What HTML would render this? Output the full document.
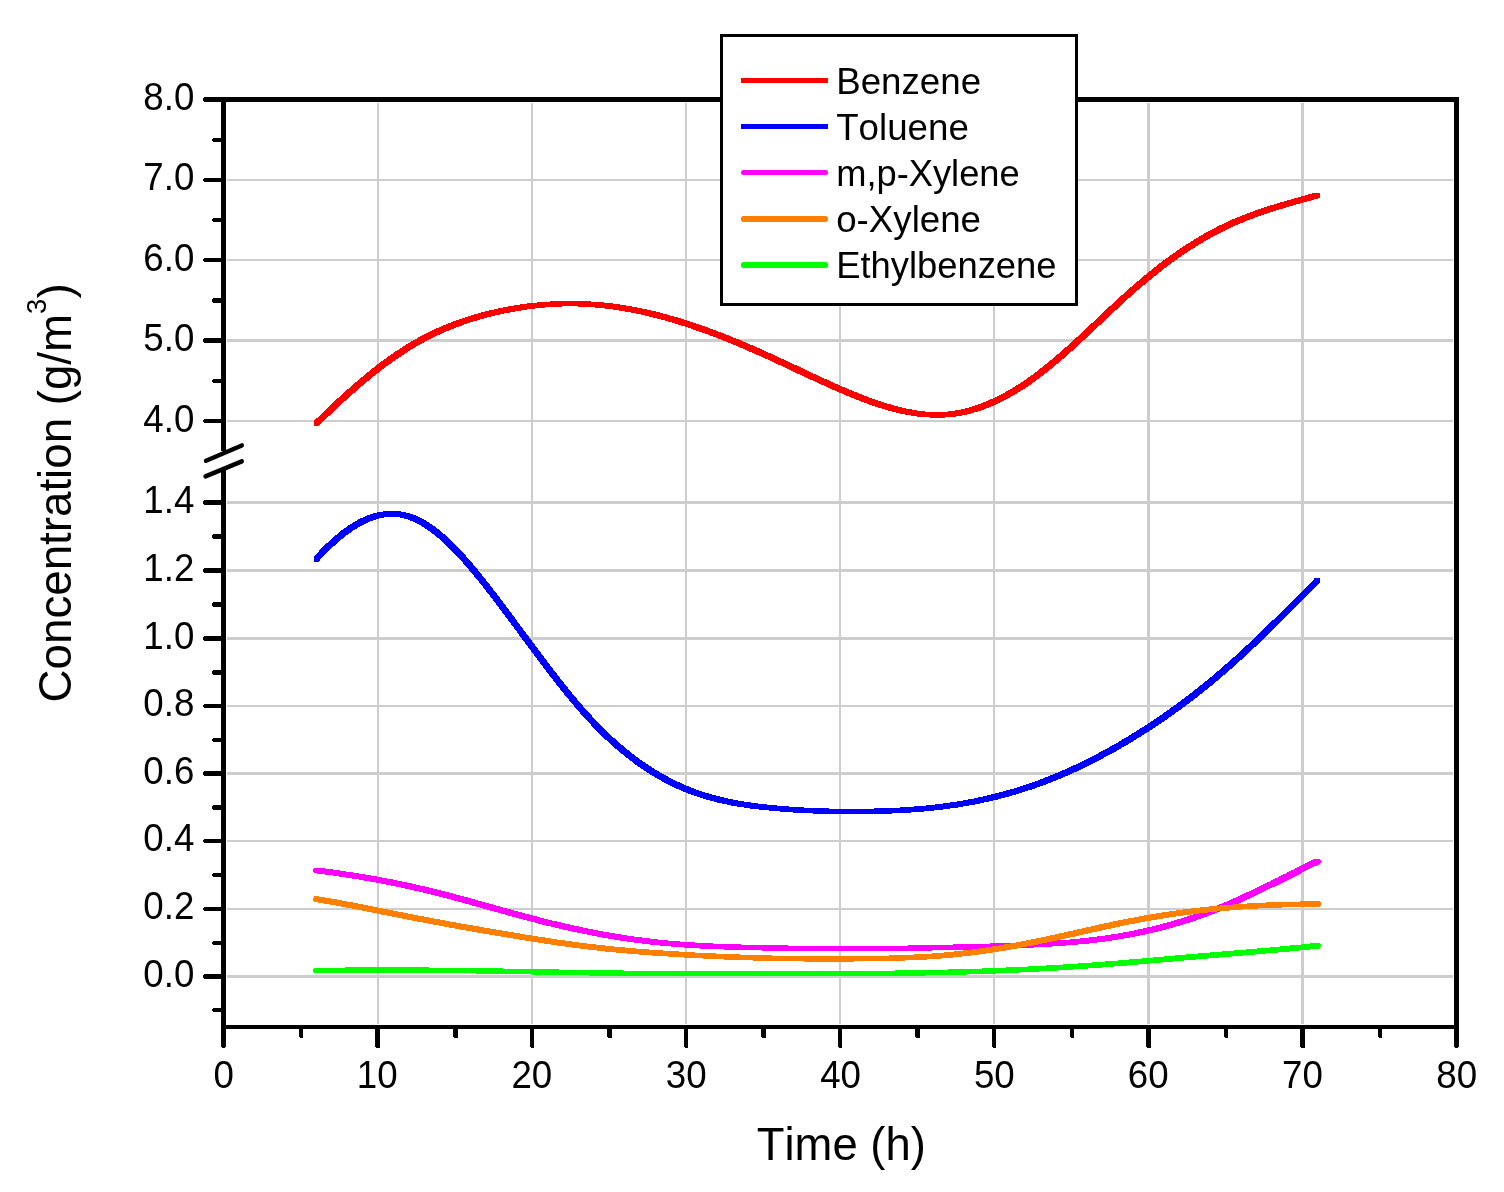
<!DOCTYPE html>
<html lang="en"><head><meta charset="utf-8"><title>BTEX concentration vs. time</title>
<style>html,body{margin:0;padding:0;background:#fff;}body{width:1504px;height:1192px;overflow:hidden;}svg{display:block;}text{font-family:"Liberation Sans", sans-serif;fill:#000;font-kerning:none;}</style>
</head><body>
<svg xmlns="http://www.w3.org/2000/svg" width="1504" height="1192" viewBox="0 0 1504 1192">
<rect x="0" y="0" width="1504" height="1192" fill="#ffffff"/>
<g shape-rendering="crispEdges">
<rect x="377" y="103" width="2" height="921" fill="#cdcdcd"/>
<rect x="531" y="103" width="2" height="921" fill="#cdcdcd"/>
<rect x="685" y="103" width="2" height="921" fill="#cdcdcd"/>
<rect x="839" y="103" width="2" height="921" fill="#cdcdcd"/>
<rect x="993" y="103" width="2" height="921" fill="#cdcdcd"/>
<rect x="1147" y="103" width="3" height="921" fill="#cdcdcd"/>
<rect x="1301" y="103" width="3" height="921" fill="#cdcdcd"/>
<rect x="227" y="179" width="1226" height="2" fill="#cdcdcd"/>
<rect x="227" y="259" width="1226" height="2" fill="#cdcdcd"/>
<rect x="227" y="339" width="1226" height="3" fill="#cdcdcd"/>
<rect x="227" y="420" width="1226" height="2" fill="#cdcdcd"/>
<rect x="227" y="501" width="1226" height="3" fill="#cdcdcd"/>
<rect x="227" y="569" width="1226" height="3" fill="#cdcdcd"/>
<rect x="227" y="637" width="1226" height="3" fill="#cdcdcd"/>
<rect x="227" y="705" width="1226" height="2" fill="#cdcdcd"/>
<rect x="227" y="772" width="1226" height="3" fill="#cdcdcd"/>
<rect x="227" y="840" width="1226" height="2" fill="#cdcdcd"/>
<rect x="227" y="908" width="1226" height="2" fill="#cdcdcd"/>
<rect x="227" y="975" width="1226" height="3" fill="#cdcdcd"/>
</g>
<path d="M314.3,420.6 314.5,420.4 314.7,420.2 314.9,420.0 315.1,419.8 315.3,419.6 315.5,419.4 315.7,419.2 315.9,419.0 316.1,418.8 316.3,418.6 316.5,418.4 316.7,418.2 316.9,418.0 317.1,417.8 317.3,417.6 317.5,417.5 317.7,417.3 317.9,417.1 318.1,416.9 318.3,416.7 318.5,416.5 318.7,416.3 318.9,416.1 319.1,415.9 320.7,414.4 322.3,412.8 323.9,411.3 325.5,409.7 327.1,408.2 328.7,406.7 330.3,405.2 331.9,403.7 333.5,402.2 335.1,400.7 336.7,399.2 338.3,397.8 339.9,396.3 341.5,394.8 343.1,393.4 344.7,391.9 346.3,390.5 347.9,389.1 349.5,387.7 351.1,386.3 352.7,384.9 354.3,383.5 355.9,382.1 357.5,380.7 359.1,379.4 360.7,378.0 362.3,376.7 363.9,375.4 365.5,374.1 367.1,372.7 368.7,371.4 370.3,370.2 371.9,368.9 373.5,367.6 375.1,366.4 376.7,365.1 378.3,363.9 379.9,362.7 381.5,361.5 383.1,360.3 384.7,359.1 386.3,358.0 387.9,356.8 389.5,355.7 391.1,354.5 392.7,353.4 394.3,352.3 395.9,351.2 397.5,350.2 399.1,349.1 400.7,348.1 402.3,347.0 403.9,346.0 405.5,345.0 407.1,344.1 408.7,343.1 410.3,342.1 411.9,341.2 413.5,340.3 415.1,339.4 416.7,338.5 418.3,337.6 419.9,336.7 421.5,335.8 423.1,335.0 424.7,334.2 426.3,333.4 427.9,332.6 429.5,331.8 431.1,331.0 432.7,330.2 434.3,329.5 435.9,328.7 437.5,328.0 439.1,327.3 440.7,326.6 442.3,325.9 443.9,325.2 445.5,324.6 447.1,323.9 448.7,323.3 450.3,322.7 451.9,322.0 453.5,321.4 455.1,320.8 456.7,320.3 458.3,319.7 459.9,319.1 461.5,318.6 463.1,318.0 464.7,317.5 466.3,317.0 467.9,316.5 469.5,316.0 471.1,315.5 472.7,315.0 474.3,314.5 475.9,314.0 477.5,313.6 479.1,313.1 480.7,312.7 482.3,312.3 483.9,311.9 485.5,311.4 487.1,311.0 488.7,310.7 490.3,310.3 491.9,309.9 493.5,309.5 495.1,309.2 496.7,308.8 498.3,308.5 499.9,308.1 501.5,307.8 503.1,307.5 504.7,307.1 506.3,306.8 507.9,306.5 509.5,306.2 511.1,306.0 512.7,305.7 514.3,305.4 515.9,305.2 517.5,304.9 519.1,304.7 520.7,304.4 522.3,304.2 523.9,304.0 525.5,303.7 527.1,303.5 528.7,303.3 530.3,303.1 531.9,303.0 533.5,302.8 535.1,302.6 536.7,302.5 538.3,302.3 539.9,302.2 541.5,302.0 543.1,301.9 544.7,301.8 546.3,301.7 547.9,301.6 549.5,301.5 551.1,301.4 552.7,301.3 554.3,301.2 555.9,301.2 557.5,301.1 559.1,301.1 560.7,301.0 562.3,301.0 563.9,301.0 565.5,300.9 567.1,300.9 568.7,300.9 570.3,300.9 571.9,300.9 573.5,300.9 575.1,300.9 576.7,301.0 578.3,301.0 579.9,301.0 581.5,301.1 583.1,301.1 584.7,301.2 586.3,301.2 587.9,301.3 589.5,301.4 591.1,301.5 592.7,301.6 594.3,301.7 595.9,301.8 597.5,301.9 599.1,302.1 600.7,302.2 602.3,302.4 603.9,302.5 605.5,302.7 607.1,302.8 608.7,303.0 610.3,303.2 611.9,303.4 613.5,303.6 615.1,303.8 616.7,304.0 618.3,304.3 619.9,304.5 621.5,304.7 623.1,305.0 624.7,305.2 626.3,305.5 627.9,305.8 629.5,306.1 631.1,306.3 632.7,306.6 634.3,306.9 635.9,307.2 637.5,307.5 639.1,307.9 640.7,308.2 642.3,308.5 643.9,308.9 645.5,309.2 647.1,309.6 648.7,309.9 650.3,310.3 651.9,310.7 653.5,311.0 655.1,311.4 656.7,311.8 658.3,312.2 659.9,312.6 661.5,313.1 663.1,313.5 664.7,313.9 666.3,314.3 667.9,314.8 669.5,315.2 671.1,315.7 672.7,316.1 674.3,316.6 675.9,317.0 677.5,317.5 679.1,318.0 680.7,318.5 682.3,319.0 683.9,319.5 685.5,320.0 687.1,320.5 688.7,321.0 690.3,321.5 691.9,322.0 693.5,322.6 695.1,323.1 696.7,323.7 698.3,324.2 699.9,324.8 701.5,325.3 703.1,325.9 704.7,326.4 706.3,327.0 707.9,327.6 709.5,328.2 711.1,328.8 712.7,329.4 714.3,330.0 715.9,330.6 717.5,331.2 719.1,331.8 720.7,332.4 722.3,333.0 723.9,333.6 725.5,334.3 727.1,334.9 728.7,335.5 730.3,336.2 731.9,336.8 733.5,337.5 735.1,338.1 736.7,338.8 738.3,339.4 739.9,340.1 741.5,340.8 743.1,341.4 744.7,342.1 746.3,342.8 747.9,343.5 749.5,344.1 751.1,344.8 752.7,345.5 754.3,346.2 755.9,346.9 757.5,347.6 759.1,348.3 760.7,349.0 762.3,349.8 763.9,350.5 765.5,351.2 767.1,351.9 768.7,352.6 770.3,353.4 771.9,354.1 773.5,354.8 775.1,355.5 776.7,356.3 778.3,357.0 779.9,357.8 781.5,358.5 783.1,359.2 784.7,360.0 786.3,360.7 787.9,361.5 789.5,362.2 791.1,363.0 792.7,363.7 794.3,364.5 795.9,365.2 797.5,366.0 799.1,366.7 800.7,367.5 802.3,368.3 803.9,369.0 805.5,369.8 807.1,370.5 808.7,371.3 810.3,372.0 811.9,372.8 813.5,373.5 815.1,374.2 816.7,375.0 818.3,375.7 819.9,376.5 821.5,377.2 823.1,377.9 824.7,378.7 826.3,379.4 827.9,380.1 829.5,380.9 831.1,381.6 832.7,382.3 834.3,383.0 835.9,383.7 837.5,384.4 839.1,385.1 840.7,385.8 842.3,386.5 843.9,387.2 845.5,387.9 847.1,388.6 848.7,389.2 850.3,389.9 851.9,390.6 853.5,391.2 855.1,391.9 856.7,392.5 858.3,393.2 859.9,393.8 861.5,394.4 863.1,395.1 864.7,395.7 866.3,396.3 867.9,396.9 869.5,397.5 871.1,398.1 872.7,398.6 874.3,399.2 875.9,399.8 877.5,400.3 879.1,400.9 880.7,401.4 882.3,401.9 883.9,402.4 885.5,402.9 887.1,403.4 888.7,403.9 890.3,404.4 891.9,404.9 893.5,405.3 895.1,405.7 896.7,406.2 898.3,406.6 899.9,407.0 901.5,407.4 903.1,407.7 904.7,408.1 906.3,408.5 907.9,408.8 909.5,409.1 911.1,409.4 912.7,409.7 914.3,410.0 915.9,410.3 917.5,410.5 919.1,410.7 920.7,410.9 922.3,411.1 923.9,411.3 925.5,411.5 927.1,411.6 928.7,411.8 930.3,411.9 931.9,412.0 933.5,412.1 935.1,412.1 936.7,412.2 938.3,412.1 939.9,412.1 941.5,412.0 943.1,411.9 944.7,411.8 946.3,411.7 947.9,411.5 949.5,411.3 951.1,411.1 952.7,410.9 954.3,410.7 955.9,410.4 957.5,410.1 959.1,409.8 960.7,409.5 962.3,409.1 963.9,408.7 965.5,408.3 967.1,407.9 968.7,407.5 970.3,407.0 971.9,406.6 973.5,406.1 975.1,405.5 976.7,405.0 978.3,404.4 979.9,403.9 981.5,403.3 983.1,402.6 984.7,402.0 986.3,401.3 987.9,400.7 989.5,400.0 991.1,399.2 992.7,398.5 994.3,397.8 995.9,397.0 997.5,396.2 999.1,395.4 1000.7,394.6 1002.3,393.7 1003.9,392.9 1005.5,392.0 1007.1,391.1 1008.7,390.2 1010.3,389.2 1011.9,388.3 1013.5,387.3 1015.1,386.3 1016.7,385.3 1018.3,384.3 1019.9,383.3 1021.5,382.2 1023.1,381.1 1024.7,380.1 1026.3,379.0 1027.9,377.8 1029.5,376.7 1031.1,375.6 1032.7,374.4 1034.3,373.2 1035.9,372.0 1037.5,370.8 1039.1,369.6 1040.7,368.3 1042.3,367.1 1043.9,365.8 1045.5,364.5 1047.1,363.2 1048.7,361.9 1050.3,360.6 1051.9,359.3 1053.5,357.9 1055.1,356.6 1056.7,355.2 1058.3,353.8 1059.9,352.4 1061.5,351.0 1063.1,349.6 1064.7,348.2 1066.3,346.8 1067.9,345.3 1069.5,343.9 1071.1,342.4 1072.7,341.0 1074.3,339.5 1075.9,338.0 1077.5,336.6 1079.1,335.1 1080.7,333.6 1082.3,332.1 1083.9,330.6 1085.5,329.1 1087.1,327.6 1088.7,326.1 1090.3,324.6 1091.9,323.1 1093.5,321.6 1095.1,320.1 1096.7,318.6 1098.3,317.1 1099.9,315.6 1101.5,314.0 1103.1,312.5 1104.7,311.0 1106.3,309.5 1107.9,308.0 1109.5,306.5 1111.1,305.1 1112.7,303.6 1114.3,302.1 1115.9,300.6 1117.5,299.1 1119.1,297.7 1120.7,296.2 1122.3,294.7 1123.9,293.3 1125.5,291.9 1127.1,290.4 1128.7,289.0 1130.3,287.6 1131.9,286.2 1133.5,284.8 1135.1,283.4 1136.7,282.0 1138.3,280.7 1139.9,279.3 1141.5,278.0 1143.1,276.6 1144.7,275.3 1146.3,274.0 1147.9,272.7 1149.5,271.4 1151.1,270.1 1152.7,268.8 1154.3,267.6 1155.9,266.3 1157.5,265.1 1159.1,263.8 1160.7,262.6 1162.3,261.4 1163.9,260.2 1165.5,259.0 1167.1,257.8 1168.7,256.7 1170.3,255.5 1171.9,254.4 1173.5,253.2 1175.1,252.1 1176.7,251.0 1178.3,249.9 1179.9,248.8 1181.5,247.7 1183.1,246.7 1184.7,245.6 1186.3,244.6 1187.9,243.5 1189.5,242.5 1191.1,241.5 1192.7,240.5 1194.3,239.5 1195.9,238.6 1197.5,237.6 1199.1,236.6 1200.7,235.7 1202.3,234.8 1203.9,233.8 1205.5,232.9 1207.1,232.0 1208.7,231.2 1210.3,230.3 1211.9,229.4 1213.5,228.6 1215.1,227.8 1216.7,226.9 1218.3,226.1 1219.9,225.3 1221.5,224.5 1223.1,223.8 1224.7,223.0 1226.3,222.3 1227.9,221.5 1229.5,220.8 1231.1,220.1 1232.7,219.4 1234.3,218.7 1235.9,218.0 1237.5,217.3 1239.1,216.7 1240.7,216.0 1242.3,215.4 1243.9,214.8 1245.5,214.1 1247.1,213.5 1248.7,212.9 1250.3,212.3 1251.9,211.8 1253.5,211.2 1255.1,210.6 1256.7,210.0 1258.3,209.5 1259.9,208.9 1261.5,208.4 1263.1,207.9 1264.7,207.3 1266.3,206.8 1267.9,206.3 1269.5,205.8 1271.1,205.3 1272.7,204.8 1274.3,204.3 1275.9,203.8 1277.5,203.3 1279.1,202.8 1280.7,202.4 1282.3,201.9 1283.9,201.4 1285.5,201.0 1287.1,200.5 1288.7,200.0 1290.3,199.6 1291.9,199.1 1293.5,198.7 1295.1,198.2 1296.7,197.8 1298.3,197.3 1299.9,196.9 1301.5,196.4 1303.1,196.0 1304.7,195.5 1306.3,195.1 1307.9,194.6 1309.5,194.2 1311.1,193.8 1312.7,193.3 1314.3,192.9 1315.1,192.6 1315.3,192.6 1315.5,192.6 1315.7,192.6 1315.9,192.6 1316.1,192.6 1316.3,192.6 1316.5,192.6 1316.7,192.6 1316.9,192.6 1317.1,192.6 1317.3,192.6 1317.5,192.6 1317.7,192.6 1317.9,192.6 1318.1,192.6 1318.3,192.6 1318.5,192.6 1318.7,192.6 1318.9,192.6 1319.1,192.6 1319.3,192.6 1319.5,192.6 1319.7,192.6 1319.7,198.0 1319.5,198.0 1319.3,198.1 1319.1,198.1 1318.9,198.2 1318.7,198.3 1318.5,198.3 1318.3,198.4 1318.1,198.4 1317.9,198.5 1317.7,198.5 1317.5,198.6 1317.3,198.6 1317.1,198.7 1316.9,198.8 1316.7,198.8 1316.5,198.9 1316.3,198.9 1316.1,199.0 1315.9,199.0 1315.7,199.1 1315.5,199.2 1315.3,199.2 1315.1,199.3 1314.3,199.5 1312.7,199.9 1311.1,200.4 1309.5,200.8 1307.9,201.3 1306.3,201.7 1304.7,202.2 1303.1,202.6 1301.5,203.1 1299.9,203.5 1298.3,204.0 1296.7,204.4 1295.1,204.9 1293.5,205.3 1291.9,205.8 1290.3,206.2 1288.7,206.7 1287.1,207.2 1285.5,207.6 1283.9,208.1 1282.3,208.6 1280.7,209.1 1279.1,209.6 1277.5,210.1 1275.9,210.6 1274.3,211.1 1272.7,211.6 1271.1,212.1 1269.5,212.6 1267.9,213.1 1266.3,213.7 1264.7,214.2 1263.1,214.7 1261.5,215.3 1259.9,215.9 1258.3,216.4 1256.7,217.0 1255.1,217.6 1253.5,218.2 1251.9,218.8 1250.3,219.4 1248.7,220.0 1247.1,220.6 1245.5,221.3 1243.9,221.9 1242.3,222.6 1240.7,223.2 1239.1,223.9 1237.5,224.6 1235.9,225.3 1234.3,226.0 1232.7,226.7 1231.1,227.5 1229.5,228.2 1227.9,229.0 1226.3,229.8 1224.7,230.5 1223.1,231.3 1221.5,232.1 1219.9,233.0 1218.3,233.8 1216.7,234.6 1215.1,235.5 1213.5,236.3 1211.9,237.2 1210.3,238.1 1208.7,239.0 1207.1,239.9 1205.5,240.9 1203.9,241.8 1202.3,242.7 1200.7,243.7 1199.1,244.7 1197.5,245.7 1195.9,246.7 1194.3,247.7 1192.7,248.7 1191.1,249.7 1189.5,250.8 1187.9,251.8 1186.3,252.9 1184.7,253.9 1183.1,255.0 1181.5,256.1 1179.9,257.2 1178.3,258.4 1176.7,259.5 1175.1,260.6 1173.5,261.8 1171.9,262.9 1170.3,264.1 1168.7,265.3 1167.1,266.5 1165.5,267.7 1163.9,268.9 1162.3,270.2 1160.7,271.4 1159.1,272.6 1157.5,273.9 1155.9,275.2 1154.3,276.5 1152.7,277.7 1151.1,279.0 1149.5,280.4 1147.9,281.7 1146.3,283.0 1144.7,284.4 1143.1,285.7 1141.5,287.1 1139.9,288.4 1138.3,289.8 1136.7,291.2 1135.1,292.6 1133.5,294.0 1131.9,295.5 1130.3,296.9 1128.7,298.3 1127.1,299.8 1125.5,301.2 1123.9,302.7 1122.3,304.2 1120.7,305.6 1119.1,307.1 1117.5,308.6 1115.9,310.1 1114.3,311.6 1112.7,313.1 1111.1,314.6 1109.5,316.1 1107.9,317.6 1106.3,319.1 1104.7,320.6 1103.1,322.1 1101.5,323.6 1099.9,325.1 1098.3,326.6 1096.7,328.1 1095.1,329.6 1093.5,331.1 1091.9,332.6 1090.3,334.1 1088.7,335.6 1087.1,337.1 1085.5,338.6 1083.9,340.1 1082.3,341.6 1080.7,343.1 1079.1,344.5 1077.5,346.0 1075.9,347.5 1074.3,348.9 1072.7,350.4 1071.1,351.8 1069.5,353.2 1067.9,354.7 1066.3,356.1 1064.7,357.5 1063.1,358.9 1061.5,360.3 1059.9,361.6 1058.3,363.0 1056.7,364.3 1055.1,365.7 1053.5,367.0 1051.9,368.3 1050.3,369.6 1048.7,370.9 1047.1,372.2 1045.5,373.4 1043.9,374.7 1042.3,375.9 1040.7,377.1 1039.1,378.3 1037.5,379.5 1035.9,380.7 1034.3,381.8 1032.7,383.0 1031.1,384.1 1029.5,385.2 1027.9,386.3 1026.3,387.3 1024.7,388.4 1023.1,389.4 1021.5,390.5 1019.9,391.5 1018.3,392.5 1016.7,393.4 1015.1,394.4 1013.5,395.3 1011.9,396.2 1010.3,397.2 1008.7,398.0 1007.1,398.9 1005.5,399.8 1003.9,400.6 1002.3,401.4 1000.7,402.2 999.1,403.0 997.5,403.7 995.9,404.5 994.3,405.2 992.7,405.9 991.1,406.6 989.5,407.2 987.9,407.9 986.3,408.5 984.7,409.1 983.1,409.7 981.5,410.3 979.9,410.8 978.3,411.3 976.7,411.8 975.1,412.3 973.5,412.8 971.9,413.2 970.3,413.6 968.7,414.0 967.1,414.4 965.5,414.8 963.9,415.1 962.3,415.4 960.7,415.7 959.1,416.0 957.5,416.2 955.9,416.5 954.3,416.7 952.7,416.9 951.1,417.0 949.5,417.2 947.9,417.3 946.3,417.4 944.7,417.5 943.1,417.5 941.5,417.6 939.9,417.6 938.3,417.6 936.7,417.6 935.1,417.6 933.5,417.6 931.9,417.5 930.3,417.5 928.7,417.4 927.1,417.4 925.5,417.3 923.9,417.1 922.3,417.0 920.7,416.9 919.1,416.7 917.5,416.5 915.9,416.3 914.3,416.1 912.7,415.8 911.1,415.6 909.5,415.3 907.9,415.0 906.3,414.7 904.7,414.4 903.1,414.1 901.5,413.8 899.9,413.4 898.3,413.1 896.7,412.7 895.1,412.3 893.5,411.9 891.9,411.5 890.3,411.0 888.7,410.6 887.1,410.1 885.5,409.7 883.9,409.2 882.3,408.7 880.7,408.2 879.1,407.7 877.5,407.2 875.9,406.7 874.3,406.1 872.7,405.6 871.1,405.0 869.5,404.5 867.9,403.9 866.3,403.3 864.7,402.7 863.1,402.1 861.5,401.5 859.9,400.9 858.3,400.3 856.7,399.7 855.1,399.0 853.5,398.4 851.9,397.8 850.3,397.1 848.7,396.5 847.1,395.8 845.5,395.1 843.9,394.5 842.3,393.8 840.7,393.1 839.1,392.4 837.5,391.7 835.9,391.0 834.3,390.3 832.7,389.6 831.1,388.9 829.5,388.2 827.9,387.5 826.3,386.8 824.7,386.1 823.1,385.3 821.5,384.6 819.9,383.9 818.3,383.2 816.7,382.4 815.1,381.7 813.5,380.9 811.9,380.2 810.3,379.5 808.7,378.7 807.1,378.0 805.5,377.2 803.9,376.5 802.3,375.7 800.7,375.0 799.1,374.2 797.5,373.5 795.9,372.7 794.3,372.0 792.7,371.2 791.1,370.5 789.5,369.7 787.9,369.0 786.3,368.2 784.7,367.4 783.1,366.7 781.5,366.0 779.9,365.2 778.3,364.5 776.7,363.7 775.1,363.0 773.5,362.2 771.9,361.5 770.3,360.8 768.7,360.0 767.1,359.3 765.5,358.6 763.9,357.8 762.3,357.1 760.7,356.4 759.1,355.7 757.5,355.0 755.9,354.3 754.3,353.6 752.7,352.8 751.1,352.1 749.5,351.5 747.9,350.8 746.3,350.1 744.7,349.4 743.1,348.7 741.5,348.0 739.9,347.3 738.3,346.7 736.7,346.0 735.1,345.3 733.5,344.7 731.9,344.0 730.3,343.3 728.7,342.7 727.1,342.0 725.5,341.4 723.9,340.8 722.3,340.1 720.7,339.5 719.1,338.9 717.5,338.2 715.9,337.6 714.3,337.0 712.7,336.4 711.1,335.8 709.5,335.2 707.9,334.6 706.3,334.0 704.7,333.4 703.1,332.8 701.5,332.3 699.9,331.7 698.3,331.1 696.7,330.6 695.1,330.0 693.5,329.5 691.9,328.9 690.3,328.4 688.7,327.8 687.1,327.3 685.5,326.8 683.9,326.3 682.3,325.8 680.7,325.3 679.1,324.8 677.5,324.3 675.9,323.8 674.3,323.3 672.7,322.8 671.1,322.3 669.5,321.9 667.9,321.4 666.3,320.9 664.7,320.5 663.1,320.1 661.5,319.6 659.9,319.2 658.3,318.8 656.7,318.3 655.1,317.9 653.5,317.5 651.9,317.1 650.3,316.7 648.7,316.4 647.1,316.0 645.5,315.6 643.9,315.2 642.3,314.9 640.7,314.5 639.1,314.2 637.5,313.8 635.9,313.5 634.3,313.2 632.7,312.9 631.1,312.6 629.5,312.2 627.9,312.0 626.3,311.7 624.7,311.4 623.1,311.1 621.5,310.8 619.9,310.6 618.3,310.3 616.7,310.1 615.1,309.8 613.5,309.6 611.9,309.4 610.3,309.2 608.7,309.0 607.1,308.8 605.5,308.6 603.9,308.4 602.3,308.2 600.7,308.0 599.1,307.9 597.5,307.7 595.9,307.6 594.3,307.4 592.7,307.3 591.1,307.2 589.5,307.1 587.9,307.0 586.3,306.9 584.7,306.8 583.1,306.7 581.5,306.6 579.9,306.6 578.3,306.5 576.7,306.4 575.1,306.4 573.5,306.4 571.9,306.3 570.3,306.3 568.7,306.3 567.1,306.4 565.5,306.4 563.9,306.4 562.3,306.5 560.7,306.5 559.1,306.6 557.5,306.7 555.9,306.8 554.3,306.8 552.7,306.9 551.1,307.0 549.5,307.1 547.9,307.3 546.3,307.4 544.7,307.5 543.1,307.7 541.5,307.8 539.9,308.0 538.3,308.1 536.7,308.3 535.1,308.5 533.5,308.7 531.9,308.9 530.3,309.1 528.7,309.3 527.1,309.5 525.5,309.8 523.9,310.0 522.3,310.2 520.7,310.5 519.1,310.8 517.5,311.0 515.9,311.3 514.3,311.6 512.7,311.9 511.1,312.2 509.5,312.5 507.9,312.8 506.3,313.1 504.7,313.4 503.1,313.8 501.5,314.1 499.9,314.5 498.3,314.8 496.7,315.2 495.1,315.6 493.5,316.0 491.9,316.3 490.3,316.7 488.7,317.2 487.1,317.6 485.5,318.0 483.9,318.4 482.3,318.9 480.7,319.3 479.1,319.8 477.5,320.3 475.9,320.7 474.3,321.2 472.7,321.7 471.1,322.2 469.5,322.8 467.9,323.3 466.3,323.8 464.7,324.4 463.1,324.9 461.5,325.5 459.9,326.1 458.3,326.7 456.7,327.3 455.1,327.9 453.5,328.5 451.9,329.2 450.3,329.8 448.7,330.5 447.1,331.2 445.5,331.8 443.9,332.5 442.3,333.2 440.7,334.0 439.1,334.7 437.5,335.4 435.9,336.2 434.3,337.0 432.7,337.8 431.1,338.6 429.5,339.4 427.9,340.2 426.3,341.0 424.7,341.9 423.1,342.8 421.5,343.6 419.9,344.5 418.3,345.4 416.7,346.4 415.1,347.3 413.5,348.2 411.9,349.2 410.3,350.2 408.7,351.2 407.1,352.2 405.5,353.2 403.9,354.3 402.3,355.3 400.7,356.4 399.1,357.5 397.5,358.6 395.9,359.7 394.3,360.8 392.7,361.9 391.1,363.1 389.5,364.2 387.9,365.4 386.3,366.6 384.7,367.8 383.1,369.0 381.5,370.2 379.9,371.5 378.3,372.7 376.7,374.0 375.1,375.2 373.5,376.5 371.9,377.8 370.3,379.1 368.7,380.4 367.1,381.8 365.5,383.1 363.9,384.4 362.3,385.8 360.7,387.2 359.1,388.5 357.5,389.9 355.9,391.3 354.3,392.7 352.7,394.1 351.1,395.6 349.5,397.0 347.9,398.4 346.3,399.9 344.7,401.3 343.1,402.8 341.5,404.3 339.9,405.7 338.3,407.2 336.7,408.7 335.1,410.2 333.5,411.7 331.9,413.2 330.3,414.8 328.7,416.3 327.1,417.8 325.5,419.4 323.9,420.9 322.3,422.5 320.7,424.0 319.1,425.6 318.9,425.8 318.7,426.0 318.5,426.0 318.3,426.0 318.1,426.0 317.9,426.0 317.7,426.0 317.5,426.0 317.3,426.0 317.1,426.0 316.9,426.0 316.7,426.0 316.5,426.0 316.3,426.0 316.1,426.0 315.9,426.0 315.7,426.0 315.5,426.0 315.3,426.0 315.1,426.0 314.9,426.0 314.7,426.0 314.5,426.0 314.3,426.0Z" fill="#ff0000" shape-rendering="crispEdges"/>
<path d="M314.3,556.1 314.5,555.9 314.7,555.6 314.9,555.4 315.1,555.2 315.3,555.0 315.5,554.8 315.7,554.6 315.9,554.3 316.1,554.1 316.3,553.9 316.5,553.7 316.7,553.5 316.9,553.3 317.1,553.1 317.3,552.8 317.5,552.6 317.7,552.4 317.9,552.2 318.1,552.0 318.3,551.8 318.5,551.6 318.7,551.4 318.9,551.1 319.1,550.9 320.7,549.3 322.3,547.6 323.9,546.0 325.5,544.5 327.1,542.9 328.7,541.4 330.3,539.9 331.9,538.5 333.5,537.1 335.1,535.7 336.7,534.4 338.3,533.0 339.9,531.8 341.5,530.5 343.1,529.3 344.7,528.1 346.3,527.0 347.9,525.9 349.5,524.8 351.1,523.8 352.7,522.8 354.3,521.8 355.9,520.9 357.5,520.0 359.1,519.2 360.7,518.4 362.3,517.6 363.9,516.9 365.5,516.2 367.1,515.6 368.7,515.0 370.3,514.4 371.9,513.9 373.5,513.4 375.1,513.0 376.7,512.6 378.3,512.2 379.9,511.9 381.5,511.7 383.1,511.5 384.7,511.3 386.3,511.2 387.9,511.1 389.5,511.1 391.1,511.1 392.7,511.1 394.3,511.1 395.9,511.1 397.5,511.2 399.1,511.3 400.7,511.5 402.3,511.7 403.9,512.0 405.5,512.3 407.1,512.7 408.7,513.1 410.3,513.6 411.9,514.1 413.5,514.7 415.1,515.3 416.7,515.9 418.3,516.7 419.9,517.4 421.5,518.2 423.1,519.1 424.7,520.0 426.3,520.9 427.9,521.9 429.5,522.9 431.1,524.0 432.7,525.1 434.3,526.2 435.9,527.4 437.5,528.7 439.1,529.9 440.7,531.2 442.3,532.6 443.9,533.9 445.5,535.3 447.1,536.8 448.7,538.2 450.3,539.7 451.9,541.3 453.5,542.8 455.1,544.4 456.7,546.0 458.3,547.7 459.9,549.4 461.5,551.1 463.1,552.8 464.7,554.6 466.3,556.3 467.9,558.1 469.5,560.0 471.1,561.8 472.7,563.7 474.3,565.6 475.9,567.5 477.5,569.4 479.1,571.4 480.7,573.3 482.3,575.3 483.9,577.3 485.5,579.3 487.1,581.3 488.7,583.4 490.3,585.4 491.9,587.5 493.5,589.5 495.1,591.6 496.7,593.7 498.3,595.8 499.9,597.9 501.5,600.0 503.1,602.1 504.7,604.3 506.3,606.4 507.9,608.5 509.5,610.7 511.1,612.8 512.7,615.0 514.3,617.1 515.9,619.3 517.5,621.5 519.1,623.6 520.7,625.8 522.3,627.9 523.9,630.1 525.5,632.3 527.1,634.4 528.7,636.6 530.3,638.8 531.9,640.9 533.5,643.1 535.1,645.2 536.7,647.4 538.3,649.5 539.9,651.7 541.5,653.8 543.1,655.9 544.7,658.0 546.3,660.2 547.9,662.3 549.5,664.4 551.1,666.5 552.7,668.6 554.3,670.6 555.9,672.7 557.5,674.8 559.1,676.8 560.7,678.9 562.3,680.9 563.9,682.9 565.5,684.9 567.1,686.9 568.7,688.9 570.3,690.9 571.9,692.8 573.5,694.8 575.1,696.7 576.7,698.6 578.3,700.5 579.9,702.4 581.5,704.2 583.1,706.1 584.7,707.9 586.3,709.7 587.9,711.5 589.5,713.3 591.1,715.0 592.7,716.8 594.3,718.5 595.9,720.2 597.5,721.8 599.1,723.5 600.7,725.1 602.3,726.7 603.9,728.3 605.5,729.9 607.1,731.4 608.7,733.0 610.3,734.5 611.9,736.0 613.5,737.5 615.1,738.9 616.7,740.3 618.3,741.8 619.9,743.2 621.5,744.5 623.1,745.9 624.7,747.3 626.3,748.6 627.9,749.9 629.5,751.2 631.1,752.4 632.7,753.7 634.3,754.9 635.9,756.1 637.5,757.3 639.1,758.5 640.7,759.7 642.3,760.8 643.9,761.9 645.5,763.0 647.1,764.1 648.7,765.2 650.3,766.3 651.9,767.3 653.5,768.3 655.1,769.3 656.7,770.3 658.3,771.3 659.9,772.2 661.5,773.2 663.1,774.1 664.7,775.0 666.3,775.9 667.9,776.7 669.5,777.6 671.1,778.4 672.7,779.2 674.3,780.0 675.9,780.8 677.5,781.6 679.1,782.3 680.7,783.1 682.3,783.8 683.9,784.5 685.5,785.2 687.1,785.9 688.7,786.5 690.3,787.2 691.9,787.8 693.5,788.4 695.1,789.0 696.7,789.6 698.3,790.2 699.9,790.7 701.5,791.3 703.1,791.8 704.7,792.3 706.3,792.8 707.9,793.3 709.5,793.8 711.1,794.3 712.7,794.7 714.3,795.2 715.9,795.6 717.5,796.0 719.1,796.4 720.7,796.8 722.3,797.2 723.9,797.6 725.5,798.0 727.1,798.3 728.7,798.7 730.3,799.0 731.9,799.3 733.5,799.6 735.1,799.9 736.7,800.2 738.3,800.5 739.9,800.8 741.5,801.1 743.1,801.4 744.7,801.6 746.3,801.9 747.9,802.1 749.5,802.3 751.1,802.6 752.7,802.8 754.3,803.0 755.9,803.2 757.5,803.4 759.1,803.6 760.7,803.8 762.3,804.0 763.9,804.2 765.5,804.4 767.1,804.5 768.7,804.7 770.3,804.9 771.9,805.0 773.5,805.2 775.1,805.3 776.7,805.5 778.3,805.6 779.9,805.8 781.5,805.9 783.1,806.0 784.7,806.2 786.3,806.3 787.9,806.4 789.5,806.5 791.1,806.6 792.7,806.8 794.3,806.9 795.9,807.0 797.5,807.1 799.1,807.2 800.7,807.3 802.3,807.4 803.9,807.5 805.5,807.5 807.1,807.6 808.7,807.7 810.3,807.8 811.9,807.9 813.5,807.9 815.1,808.0 816.7,808.1 818.3,808.1 819.9,808.2 821.5,808.2 823.1,808.3 824.7,808.3 826.3,808.4 827.9,808.4 829.5,808.5 831.1,808.5 832.7,808.5 834.3,808.6 835.9,808.6 837.5,808.6 839.1,808.7 840.7,808.7 842.3,808.7 843.9,808.7 845.5,808.7 847.1,808.7 848.7,808.8 850.3,808.8 851.9,808.8 853.5,808.8 855.1,808.8 856.7,808.7 858.3,808.7 859.9,808.7 861.5,808.7 863.1,808.7 864.7,808.7 866.3,808.6 867.9,808.6 869.5,808.6 871.1,808.6 872.7,808.5 874.3,808.5 875.9,808.4 877.5,808.4 879.1,808.4 880.7,808.3 882.3,808.3 883.9,808.2 885.5,808.1 887.1,808.1 888.7,808.0 890.3,808.0 891.9,807.9 893.5,807.8 895.1,807.7 896.7,807.7 898.3,807.6 899.9,807.5 901.5,807.4 903.1,807.3 904.7,807.2 906.3,807.1 907.9,807.0 909.5,806.9 911.1,806.8 912.7,806.6 914.3,806.5 915.9,806.4 917.5,806.3 919.1,806.1 920.7,806.0 922.3,805.8 923.9,805.7 925.5,805.5 927.1,805.4 928.7,805.2 930.3,805.0 931.9,804.9 933.5,804.7 935.1,804.5 936.7,804.3 938.3,804.1 939.9,803.9 941.5,803.7 943.1,803.5 944.7,803.3 946.3,803.1 947.9,802.9 949.5,802.6 951.1,802.4 952.7,802.1 954.3,801.9 955.9,801.6 957.5,801.4 959.1,801.1 960.7,800.8 962.3,800.6 963.9,800.3 965.5,800.0 967.1,799.7 968.7,799.4 970.3,799.1 971.9,798.8 973.5,798.5 975.1,798.1 976.7,797.8 978.3,797.5 979.9,797.1 981.5,796.8 983.1,796.4 984.7,796.1 986.3,795.7 987.9,795.3 989.5,794.9 991.1,794.5 992.7,794.2 994.3,793.8 995.9,793.3 997.5,792.9 999.1,792.5 1000.7,792.1 1002.3,791.7 1003.9,791.2 1005.5,790.8 1007.1,790.3 1008.7,789.9 1010.3,789.4 1011.9,788.9 1013.5,788.5 1015.1,788.0 1016.7,787.5 1018.3,787.0 1019.9,786.5 1021.5,786.0 1023.1,785.4 1024.7,784.9 1026.3,784.4 1027.9,783.8 1029.5,783.3 1031.1,782.7 1032.7,782.2 1034.3,781.6 1035.9,781.0 1037.5,780.5 1039.1,779.9 1040.7,779.3 1042.3,778.7 1043.9,778.1 1045.5,777.4 1047.1,776.8 1048.7,776.2 1050.3,775.5 1051.9,774.9 1053.5,774.2 1055.1,773.6 1056.7,772.9 1058.3,772.2 1059.9,771.6 1061.5,770.9 1063.1,770.2 1064.7,769.5 1066.3,768.8 1067.9,768.0 1069.5,767.3 1071.1,766.6 1072.7,765.8 1074.3,765.1 1075.9,764.4 1077.5,763.6 1079.1,762.8 1080.7,762.1 1082.3,761.3 1083.9,760.5 1085.5,759.7 1087.1,758.9 1088.7,758.1 1090.3,757.3 1091.9,756.5 1093.5,755.6 1095.1,754.8 1096.7,754.0 1098.3,753.1 1099.9,752.3 1101.5,751.4 1103.1,750.5 1104.7,749.7 1106.3,748.8 1107.9,747.9 1109.5,747.0 1111.1,746.1 1112.7,745.2 1114.3,744.3 1115.9,743.4 1117.5,742.5 1119.1,741.5 1120.7,740.6 1122.3,739.6 1123.9,738.7 1125.5,737.7 1127.1,736.8 1128.7,735.8 1130.3,734.8 1131.9,733.8 1133.5,732.9 1135.1,731.9 1136.7,730.9 1138.3,729.9 1139.9,728.8 1141.5,727.8 1143.1,726.8 1144.7,725.8 1146.3,724.7 1147.9,723.7 1149.5,722.6 1151.1,721.6 1152.7,720.5 1154.3,719.4 1155.9,718.4 1157.5,717.3 1159.1,716.2 1160.7,715.1 1162.3,714.0 1163.9,712.9 1165.5,711.7 1167.1,710.6 1168.7,709.5 1170.3,708.3 1171.9,707.2 1173.5,706.0 1175.1,704.9 1176.7,703.7 1178.3,702.5 1179.9,701.4 1181.5,700.2 1183.1,699.0 1184.7,697.8 1186.3,696.6 1187.9,695.3 1189.5,694.1 1191.1,692.9 1192.7,691.6 1194.3,690.4 1195.9,689.1 1197.5,687.9 1199.1,686.6 1200.7,685.3 1202.3,684.0 1203.9,682.8 1205.5,681.5 1207.1,680.1 1208.7,678.8 1210.3,677.5 1211.9,676.2 1213.5,674.8 1215.1,673.5 1216.7,672.1 1218.3,670.8 1219.9,669.4 1221.5,668.0 1223.1,666.6 1224.7,665.2 1226.3,663.8 1227.9,662.4 1229.5,661.0 1231.1,659.6 1232.7,658.1 1234.3,656.7 1235.9,655.3 1237.5,653.8 1239.1,652.3 1240.7,650.9 1242.3,649.4 1243.9,647.9 1245.5,646.4 1247.1,644.9 1248.7,643.4 1250.3,641.9 1251.9,640.4 1253.5,638.9 1255.1,637.4 1256.7,635.8 1258.3,634.3 1259.9,632.8 1261.5,631.2 1263.1,629.7 1264.7,628.1 1266.3,626.6 1267.9,625.0 1269.5,623.5 1271.1,621.9 1272.7,620.3 1274.3,618.8 1275.9,617.2 1277.5,615.6 1279.1,614.0 1280.7,612.4 1282.3,610.8 1283.9,609.2 1285.5,607.7 1287.1,606.1 1288.7,604.5 1290.3,602.9 1291.9,601.3 1293.5,599.7 1295.1,598.1 1296.7,596.4 1298.3,594.8 1299.9,593.2 1301.5,591.6 1303.1,590.0 1304.7,588.4 1306.3,586.8 1307.9,585.2 1309.5,583.6 1311.1,582.0 1312.7,580.4 1314.3,578.7 1315.1,577.9 1315.3,577.7 1315.5,577.7 1315.7,577.7 1315.9,577.7 1316.1,577.7 1316.3,577.7 1316.5,577.7 1316.7,577.7 1316.9,577.7 1317.1,577.7 1317.3,577.7 1317.5,577.7 1317.7,577.7 1317.9,577.7 1318.1,577.7 1318.3,577.7 1318.5,577.7 1318.7,577.7 1318.9,577.7 1319.1,577.7 1319.3,577.7 1319.5,577.7 1319.7,577.7 1319.7,583.1 1319.5,583.3 1319.3,583.5 1319.1,583.7 1318.9,583.9 1318.7,584.1 1318.5,584.3 1318.3,584.5 1318.1,584.7 1317.9,584.9 1317.7,585.1 1317.5,585.3 1317.3,585.5 1317.1,585.8 1316.9,586.0 1316.7,586.2 1316.5,586.4 1316.3,586.6 1316.1,586.8 1315.9,587.0 1315.7,587.2 1315.5,587.4 1315.3,587.6 1315.1,587.8 1314.3,588.6 1312.7,590.2 1311.1,591.8 1309.5,593.4 1307.9,595.0 1306.3,596.6 1304.7,598.2 1303.1,599.8 1301.5,601.4 1299.9,603.1 1298.3,604.7 1296.7,606.3 1295.1,607.9 1293.5,609.5 1291.9,611.1 1290.3,612.7 1288.7,614.3 1287.1,615.8 1285.5,617.4 1283.9,619.0 1282.3,620.6 1280.7,622.2 1279.1,623.8 1277.5,625.3 1275.9,626.9 1274.3,628.5 1272.7,630.0 1271.1,631.6 1269.5,633.2 1267.9,634.7 1266.3,636.2 1264.7,637.8 1263.1,639.3 1261.5,640.9 1259.9,642.4 1258.3,643.9 1256.7,645.4 1255.1,646.9 1253.5,648.5 1251.9,650.0 1250.3,651.4 1248.7,652.9 1247.1,654.4 1245.5,655.9 1243.9,657.4 1242.3,658.8 1240.7,660.3 1239.1,661.7 1237.5,663.2 1235.9,664.6 1234.3,666.0 1232.7,667.5 1231.1,668.9 1229.5,670.3 1227.9,671.7 1226.3,673.1 1224.7,674.5 1223.1,675.8 1221.5,677.2 1219.9,678.5 1218.3,679.9 1216.7,681.2 1215.1,682.6 1213.5,683.9 1211.9,685.2 1210.3,686.5 1208.7,687.8 1207.1,689.1 1205.5,690.4 1203.9,691.7 1202.3,693.0 1200.7,694.2 1199.1,695.5 1197.5,696.7 1195.9,698.0 1194.3,699.2 1192.7,700.4 1191.1,701.7 1189.5,702.9 1187.9,704.1 1186.3,705.3 1184.7,706.5 1183.1,707.6 1181.5,708.8 1179.9,710.0 1178.3,711.2 1176.7,712.3 1175.1,713.5 1173.5,714.6 1171.9,715.7 1170.3,716.9 1168.7,718.0 1167.1,719.1 1165.5,720.2 1163.9,721.3 1162.3,722.4 1160.7,723.5 1159.1,724.6 1157.5,725.6 1155.9,726.7 1154.3,727.8 1152.7,728.8 1151.1,729.9 1149.5,730.9 1147.9,731.9 1146.3,733.0 1144.7,734.0 1143.1,735.0 1141.5,736.0 1139.9,737.0 1138.3,738.0 1136.7,739.0 1135.1,740.0 1133.5,741.0 1131.9,741.9 1130.3,742.9 1128.7,743.8 1127.1,744.8 1125.5,745.7 1123.9,746.7 1122.3,747.6 1120.7,748.5 1119.1,749.5 1117.5,750.4 1115.9,751.3 1114.3,752.2 1112.7,753.1 1111.1,754.0 1109.5,754.8 1107.9,755.7 1106.3,756.6 1104.7,757.4 1103.1,758.3 1101.5,759.2 1099.9,760.0 1098.3,760.8 1096.7,761.7 1095.1,762.5 1093.5,763.3 1091.9,764.1 1090.3,764.9 1088.7,765.7 1087.1,766.5 1085.5,767.3 1083.9,768.0 1082.3,768.8 1080.7,769.6 1079.1,770.3 1077.5,771.1 1075.9,771.8 1074.3,772.5 1072.7,773.3 1071.1,774.0 1069.5,774.7 1067.9,775.4 1066.3,776.1 1064.7,776.8 1063.1,777.5 1061.5,778.1 1059.9,778.8 1058.3,779.5 1056.7,780.1 1055.1,780.8 1053.5,781.4 1051.9,782.1 1050.3,782.7 1048.7,783.3 1047.1,783.9 1045.5,784.5 1043.9,785.1 1042.3,785.7 1040.7,786.3 1039.1,786.9 1037.5,787.4 1035.9,788.0 1034.3,788.6 1032.7,789.1 1031.1,789.7 1029.5,790.2 1027.9,790.7 1026.3,791.2 1024.7,791.7 1023.1,792.3 1021.5,792.8 1019.9,793.2 1018.3,793.7 1016.7,794.2 1015.1,794.7 1013.5,795.2 1011.9,795.6 1010.3,796.1 1008.7,796.5 1007.1,797.0 1005.5,797.4 1003.9,797.8 1002.3,798.2 1000.7,798.6 999.1,799.1 997.5,799.5 995.9,799.9 994.3,800.2 992.7,800.6 991.1,801.0 989.5,801.4 987.9,801.7 986.3,802.1 984.7,802.4 983.1,802.8 981.5,803.1 979.9,803.5 978.3,803.8 976.7,804.1 975.1,804.4 973.5,804.7 971.9,805.0 970.3,805.3 968.7,805.6 967.1,805.9 965.5,806.2 963.9,806.4 962.3,806.7 960.7,807.0 959.1,807.2 957.5,807.5 955.9,807.7 954.3,808.0 952.7,808.2 951.1,808.4 949.5,808.6 947.9,808.9 946.3,809.1 944.7,809.3 943.1,809.5 941.5,809.7 939.9,809.9 938.3,810.0 936.7,810.2 935.1,810.4 933.5,810.6 931.9,810.7 930.3,810.9 928.7,811.1 927.1,811.2 925.5,811.4 923.9,811.5 922.3,811.6 920.7,811.8 919.1,811.9 917.5,812.0 915.9,812.1 914.3,812.3 912.7,812.4 911.1,812.5 909.5,812.6 907.9,812.7 906.3,812.8 904.7,812.9 903.1,813.0 901.5,813.0 899.9,813.1 898.3,813.2 896.7,813.3 895.1,813.3 893.5,813.4 891.9,813.5 890.3,813.5 888.7,813.6 887.1,813.6 885.5,813.7 883.9,813.7 882.3,813.8 880.7,813.8 879.1,813.9 877.5,813.9 875.9,813.9 874.3,814.0 872.7,814.0 871.1,814.0 869.5,814.1 867.9,814.1 866.3,814.1 864.7,814.1 863.1,814.1 861.5,814.1 859.9,814.1 858.3,814.2 856.7,814.2 855.1,814.2 853.5,814.2 851.9,814.2 850.3,814.2 848.7,814.2 847.1,814.2 845.5,814.2 843.9,814.1 842.3,814.1 840.7,814.1 839.1,814.1 837.5,814.1 835.9,814.1 834.3,814.1 832.7,814.0 831.1,814.0 829.5,814.0 827.9,813.9 826.3,813.9 824.7,813.9 823.1,813.8 821.5,813.8 819.9,813.7 818.3,813.7 816.7,813.6 815.1,813.6 813.5,813.5 811.9,813.4 810.3,813.4 808.7,813.3 807.1,813.2 805.5,813.2 803.9,813.1 802.3,813.0 800.7,812.9 799.1,812.8 797.5,812.7 795.9,812.7 794.3,812.6 792.7,812.5 791.1,812.4 789.5,812.2 787.9,812.1 786.3,812.0 784.7,811.9 783.1,811.8 781.5,811.7 779.9,811.5 778.3,811.4 776.7,811.3 775.1,811.1 773.5,811.0 771.9,810.8 770.3,810.7 768.7,810.5 767.1,810.4 765.5,810.2 763.9,810.1 762.3,809.9 760.7,809.7 759.1,809.5 757.5,809.4 755.9,809.2 754.3,809.0 752.7,808.8 751.1,808.6 749.5,808.4 747.9,808.1 746.3,807.9 744.7,807.7 743.1,807.4 741.5,807.2 739.9,806.9 738.3,806.7 736.7,806.4 735.1,806.1 733.5,805.9 731.9,805.6 730.3,805.3 728.7,805.0 727.1,804.6 725.5,804.3 723.9,804.0 722.3,803.6 720.7,803.3 719.1,802.9 717.5,802.5 715.9,802.1 714.3,801.7 712.7,801.3 711.1,800.9 709.5,800.5 707.9,800.0 706.3,799.5 704.7,799.1 703.1,798.6 701.5,798.1 699.9,797.6 698.3,797.1 696.7,796.5 695.1,796.0 693.5,795.4 691.9,794.9 690.3,794.3 688.7,793.7 687.1,793.0 685.5,792.4 683.9,791.8 682.3,791.1 680.7,790.4 679.1,789.7 677.5,789.0 675.9,788.3 674.3,787.6 672.7,786.8 671.1,786.0 669.5,785.2 667.9,784.4 666.3,783.6 664.7,782.8 663.1,781.9 661.5,781.0 659.9,780.2 658.3,779.3 656.7,778.3 655.1,777.4 653.5,776.4 651.9,775.5 650.3,774.5 648.7,773.5 647.1,772.4 645.5,771.4 643.9,770.3 642.3,769.3 640.7,768.2 639.1,767.1 637.5,765.9 635.9,764.8 634.3,763.6 632.7,762.4 631.1,761.2 629.5,760.0 627.9,758.8 626.3,757.5 624.7,756.2 623.1,755.0 621.5,753.6 619.9,752.3 618.3,751.0 616.7,749.6 615.1,748.2 613.5,746.8 611.9,745.4 610.3,743.9 608.7,742.5 607.1,741.0 605.5,739.5 603.9,738.0 602.3,736.4 600.7,734.9 599.1,733.3 597.5,731.7 595.9,730.1 594.3,728.5 592.7,726.8 591.1,725.1 589.5,723.4 587.9,721.7 586.3,720.0 584.7,718.2 583.1,716.5 581.5,714.7 579.9,712.8 578.3,711.0 576.7,709.2 575.1,707.3 573.5,705.4 571.9,703.5 570.3,701.6 568.7,699.7 567.1,697.7 565.5,695.8 563.9,693.8 562.3,691.8 560.7,689.8 559.1,687.8 557.5,685.8 555.9,683.8 554.3,681.7 552.7,679.7 551.1,677.6 549.5,675.5 547.9,673.4 546.3,671.4 544.7,669.3 543.1,667.1 541.5,665.0 539.9,662.9 538.3,660.8 536.7,658.7 535.1,656.5 533.5,654.4 531.9,652.2 530.3,650.1 528.7,647.9 527.1,645.8 525.5,643.6 523.9,641.5 522.3,639.3 520.7,637.1 519.1,635.0 517.5,632.8 515.9,630.6 514.3,628.5 512.7,626.3 511.1,624.2 509.5,622.0 507.9,619.9 506.3,617.7 504.7,615.6 503.1,613.4 501.5,611.3 499.9,609.1 498.3,607.0 496.7,604.9 495.1,602.8 493.5,600.7 491.9,598.6 490.3,596.5 488.7,594.4 487.1,592.3 485.5,590.3 483.9,588.2 482.3,586.2 480.7,584.2 479.1,582.2 477.5,580.2 475.9,578.2 474.3,576.3 472.7,574.3 471.1,572.4 469.5,570.5 467.9,568.6 466.3,566.8 464.7,564.9 463.1,563.1 461.5,561.3 459.9,559.5 458.3,557.8 456.7,556.1 455.1,554.4 453.5,552.7 451.9,551.0 450.3,549.4 448.7,547.8 447.1,546.3 445.5,544.8 443.9,543.3 442.3,541.8 440.7,540.4 439.1,539.0 437.5,537.6 435.9,536.3 434.3,535.0 432.7,533.8 431.1,532.5 429.5,531.4 427.9,530.2 426.3,529.1 424.7,528.1 423.1,527.1 421.5,526.1 419.9,525.1 418.3,524.3 416.7,523.4 415.1,522.6 413.5,521.9 411.9,521.2 410.3,520.5 408.7,519.9 407.1,519.3 405.5,518.8 403.9,518.4 402.3,518.0 400.7,517.6 399.1,517.3 397.5,517.0 395.9,516.8 394.3,516.7 392.7,516.6 391.1,516.6 389.5,516.7 387.9,516.8 386.3,517.0 384.7,517.3 383.1,517.6 381.5,517.9 379.9,518.3 378.3,518.7 376.7,519.2 375.1,519.7 373.5,520.2 371.9,520.8 370.3,521.4 368.7,522.1 367.1,522.8 365.5,523.6 363.9,524.4 362.3,525.2 360.7,526.1 359.1,527.0 357.5,527.9 355.9,528.9 354.3,529.9 352.7,531.0 351.1,532.1 349.5,533.2 347.9,534.4 346.3,535.6 344.7,536.8 343.1,538.1 341.5,539.4 339.9,540.8 338.3,542.1 336.7,543.5 335.1,545.0 333.5,546.4 331.9,547.9 330.3,549.5 328.7,551.0 327.1,552.6 325.5,554.3 323.9,555.9 322.3,557.6 320.7,559.3 319.1,561.0 318.9,561.3 318.7,561.5 318.5,561.5 318.3,561.5 318.1,561.5 317.9,561.5 317.7,561.5 317.5,561.5 317.3,561.5 317.1,561.5 316.9,561.5 316.7,561.5 316.5,561.5 316.3,561.5 316.1,561.5 315.9,561.5 315.7,561.5 315.5,561.5 315.3,561.5 315.1,561.5 314.9,561.5 314.7,561.5 314.5,561.5 314.3,561.5Z" fill="#0000ff" shape-rendering="crispEdges"/>
<path d="M313.3,868.8 314.3,868.8 314.3,867.7 314.5,867.7 314.7,867.7 314.9,867.7 315.1,867.7 315.3,867.7 315.5,867.7 315.7,867.7 315.9,867.7 316.1,867.7 316.3,867.7 316.5,867.7 316.7,867.7 316.9,867.7 317.1,867.7 317.3,867.7 317.5,867.7 317.7,867.7 317.9,867.7 318.1,867.7 318.3,867.7 318.5,867.7 318.7,867.7 318.9,867.7 319.1,867.7 320.7,867.9 322.3,868.1 323.9,868.3 325.5,868.5 327.1,868.7 328.7,869.0 330.3,869.2 331.9,869.4 333.5,869.6 335.1,869.8 336.7,870.1 338.3,870.3 339.9,870.5 341.5,870.8 343.1,871.0 344.7,871.2 346.3,871.5 347.9,871.7 349.5,872.0 351.1,872.2 352.7,872.5 354.3,872.7 355.9,873.0 357.5,873.2 359.1,873.5 360.7,873.7 362.3,874.0 363.9,874.3 365.5,874.5 367.1,874.8 368.7,875.1 370.3,875.4 371.9,875.7 373.5,875.9 375.1,876.2 376.7,876.5 378.3,876.8 379.9,877.1 381.5,877.4 383.1,877.7 384.7,878.0 386.3,878.3 387.9,878.6 389.5,878.9 391.1,879.2 392.7,879.5 394.3,879.9 395.9,880.2 397.5,880.5 399.1,880.8 400.7,881.2 402.3,881.5 403.9,881.8 405.5,882.2 407.1,882.5 408.7,882.9 410.3,883.2 411.9,883.6 413.5,883.9 415.1,884.3 416.7,884.6 418.3,885.0 419.9,885.4 421.5,885.7 423.1,886.1 424.7,886.5 426.3,886.9 427.9,887.2 429.5,887.6 431.1,888.0 432.7,888.4 434.3,888.8 435.9,889.2 437.5,889.6 439.1,890.0 440.7,890.4 442.3,890.8 443.9,891.2 445.5,891.6 447.1,892.0 448.7,892.5 450.3,892.9 451.9,893.3 453.5,893.7 455.1,894.2 456.7,894.6 458.3,895.0 459.9,895.4 461.5,895.9 463.1,896.3 464.7,896.7 466.3,897.2 467.9,897.6 469.5,898.1 471.1,898.5 472.7,898.9 474.3,899.4 475.9,899.8 477.5,900.3 479.1,900.7 480.7,901.2 482.3,901.6 483.9,902.1 485.5,902.5 487.1,902.9 488.7,903.4 490.3,903.8 491.9,904.3 493.5,904.7 495.1,905.2 496.7,905.6 498.3,906.1 499.9,906.5 501.5,907.0 503.1,907.4 504.7,907.9 506.3,908.3 507.9,908.8 509.5,909.2 511.1,909.6 512.7,910.1 514.3,910.5 515.9,911.0 517.5,911.4 519.1,911.8 520.7,912.3 522.3,912.7 523.9,913.1 525.5,913.6 527.1,914.0 528.7,914.4 530.3,914.8 531.9,915.3 533.5,915.7 535.1,916.1 536.7,916.5 538.3,916.9 539.9,917.4 541.5,917.8 543.1,918.2 544.7,918.6 546.3,919.0 547.9,919.4 549.5,919.8 551.1,920.2 552.7,920.6 554.3,920.9 555.9,921.3 557.5,921.7 559.1,922.1 560.7,922.5 562.3,922.8 563.9,923.2 565.5,923.6 567.1,924.0 568.7,924.3 570.3,924.7 571.9,925.0 573.5,925.4 575.1,925.7 576.7,926.1 578.3,926.4 579.9,926.8 581.5,927.1 583.1,927.5 584.7,927.8 586.3,928.1 587.9,928.5 589.5,928.8 591.1,929.1 592.7,929.4 594.3,929.7 595.9,930.0 597.5,930.4 599.1,930.7 600.7,931.0 602.3,931.3 603.9,931.6 605.5,931.9 607.1,932.1 608.7,932.4 610.3,932.7 611.9,933.0 613.5,933.3 615.1,933.5 616.7,933.8 618.3,934.1 619.9,934.3 621.5,934.6 623.1,934.8 624.7,935.1 626.3,935.3 627.9,935.6 629.5,935.8 631.1,936.1 632.7,936.3 634.3,936.5 635.9,936.8 637.5,937.0 639.1,937.2 640.7,937.4 642.3,937.6 643.9,937.8 645.5,938.0 647.1,938.2 648.7,938.4 650.3,938.6 651.9,938.8 653.5,939.0 655.1,939.2 656.7,939.3 658.3,939.5 659.9,939.7 661.5,939.8 663.1,940.0 664.7,940.2 666.3,940.3 667.9,940.5 669.5,940.6 671.1,940.8 672.7,940.9 674.3,941.0 675.9,941.2 677.5,941.3 679.1,941.4 680.7,941.6 682.3,941.7 683.9,941.8 685.5,941.9 687.1,942.0 688.7,942.1 690.3,942.2 691.9,942.3 693.5,942.4 695.1,942.5 696.7,942.6 698.3,942.7 699.9,942.8 701.5,942.9 703.1,943.0 704.7,943.1 706.3,943.2 707.9,943.2 709.5,943.3 711.1,943.4 712.7,943.5 714.3,943.5 715.9,943.6 717.5,943.7 719.1,943.7 720.7,943.8 722.3,943.9 723.9,943.9 725.5,944.0 727.1,944.0 728.7,944.1 730.3,944.1 731.9,944.2 733.5,944.3 735.1,944.3 736.7,944.3 738.3,944.4 739.9,944.4 741.5,944.5 743.1,944.5 744.7,944.6 746.3,944.6 747.9,944.7 749.5,944.7 751.1,944.7 752.7,944.8 754.3,944.8 755.9,944.8 757.5,944.9 759.1,944.9 760.7,944.9 762.3,945.0 763.9,945.0 765.5,945.0 767.1,945.1 768.7,945.1 770.3,945.1 771.9,945.2 773.5,945.2 775.1,945.2 776.7,945.3 778.3,945.3 779.9,945.3 781.5,945.4 783.1,945.4 784.7,945.4 786.3,945.4 787.9,945.5 789.5,945.5 791.1,945.5 792.7,945.5 794.3,945.6 795.9,945.6 797.5,945.6 799.1,945.6 800.7,945.7 802.3,945.7 803.9,945.7 805.5,945.7 807.1,945.7 808.7,945.8 810.3,945.8 811.9,945.8 813.5,945.8 815.1,945.8 816.7,945.8 818.3,945.9 819.9,945.9 821.5,945.9 823.1,945.9 824.7,945.9 826.3,945.9 827.9,945.9 829.5,946.0 831.1,946.0 832.7,946.0 834.3,946.0 835.9,946.0 837.5,946.0 839.1,946.0 840.7,946.0 842.3,946.0 843.9,946.0 845.5,946.0 847.1,946.0 848.7,946.0 850.3,946.0 851.9,946.0 853.5,946.0 855.1,946.0 856.7,946.0 858.3,946.0 859.9,946.0 861.5,946.0 863.1,946.0 864.7,946.0 866.3,946.0 867.9,946.0 869.5,946.0 871.1,945.9 872.7,945.9 874.3,945.9 875.9,945.9 877.5,945.9 879.1,945.9 880.7,945.9 882.3,945.8 883.9,945.8 885.5,945.8 887.1,945.8 888.7,945.8 890.3,945.7 891.9,945.7 893.5,945.7 895.1,945.7 896.7,945.6 898.3,945.6 899.9,945.6 901.5,945.6 903.1,945.5 904.7,945.5 906.3,945.5 907.9,945.5 909.5,945.4 911.1,945.4 912.7,945.4 914.3,945.3 915.9,945.3 917.5,945.3 919.1,945.2 920.7,945.2 922.3,945.2 923.9,945.1 925.5,945.1 927.1,945.1 928.7,945.0 930.3,945.0 931.9,945.0 933.5,944.9 935.1,944.9 936.7,944.9 938.3,944.8 939.9,944.8 941.5,944.7 943.1,944.7 944.7,944.7 946.3,944.6 947.9,944.6 949.5,944.5 951.1,944.5 952.7,944.5 954.3,944.4 955.9,944.4 957.5,944.3 959.1,944.3 960.7,944.3 962.3,944.2 963.9,944.2 965.5,944.1 967.1,944.1 968.7,944.0 970.3,944.0 971.9,944.0 973.5,943.9 975.1,943.9 976.7,943.8 978.3,943.8 979.9,943.7 981.5,943.7 983.1,943.7 984.7,943.6 986.3,943.6 987.9,943.5 989.5,943.5 991.1,943.4 992.7,943.4 994.3,943.3 995.9,943.3 997.5,943.2 999.1,943.2 1000.7,943.2 1002.3,943.1 1003.9,943.1 1005.5,943.0 1007.1,943.0 1008.7,942.9 1010.3,942.8 1011.9,942.8 1013.5,942.7 1015.1,942.7 1016.7,942.6 1018.3,942.6 1019.9,942.5 1021.5,942.4 1023.1,942.4 1024.7,942.3 1026.3,942.2 1027.9,942.2 1029.5,942.1 1031.1,942.0 1032.7,941.9 1034.3,941.9 1035.9,941.8 1037.5,941.7 1039.1,941.6 1040.7,941.5 1042.3,941.4 1043.9,941.4 1045.5,941.3 1047.1,941.2 1048.7,941.1 1050.3,941.0 1051.9,940.9 1053.5,940.7 1055.1,940.6 1056.7,940.5 1058.3,940.4 1059.9,940.3 1061.5,940.2 1063.1,940.0 1064.7,939.9 1066.3,939.8 1067.9,939.6 1069.5,939.5 1071.1,939.4 1072.7,939.2 1074.3,939.1 1075.9,938.9 1077.5,938.8 1079.1,938.6 1080.7,938.4 1082.3,938.3 1083.9,938.1 1085.5,937.9 1087.1,937.7 1088.7,937.6 1090.3,937.4 1091.9,937.2 1093.5,937.0 1095.1,936.8 1096.7,936.6 1098.3,936.4 1099.9,936.1 1101.5,935.9 1103.1,935.7 1104.7,935.5 1106.3,935.2 1107.9,935.0 1109.5,934.8 1111.1,934.5 1112.7,934.3 1114.3,934.0 1115.9,933.7 1117.5,933.5 1119.1,933.2 1120.7,932.9 1122.3,932.6 1123.9,932.4 1125.5,932.1 1127.1,931.8 1128.7,931.5 1130.3,931.2 1131.9,930.8 1133.5,930.5 1135.1,930.2 1136.7,929.9 1138.3,929.5 1139.9,929.2 1141.5,928.8 1143.1,928.5 1144.7,928.1 1146.3,927.8 1147.9,927.4 1149.5,927.0 1151.1,926.6 1152.7,926.3 1154.3,925.9 1155.9,925.5 1157.5,925.1 1159.1,924.7 1160.7,924.2 1162.3,923.8 1163.9,923.4 1165.5,923.0 1167.1,922.5 1168.7,922.1 1170.3,921.6 1171.9,921.2 1173.5,920.7 1175.1,920.2 1176.7,919.7 1178.3,919.3 1179.9,918.8 1181.5,918.3 1183.1,917.8 1184.7,917.2 1186.3,916.7 1187.9,916.2 1189.5,915.7 1191.1,915.1 1192.7,914.6 1194.3,914.0 1195.9,913.5 1197.5,912.9 1199.1,912.3 1200.7,911.8 1202.3,911.2 1203.9,910.6 1205.5,910.0 1207.1,909.4 1208.7,908.7 1210.3,908.1 1211.9,907.5 1213.5,906.9 1215.1,906.2 1216.7,905.6 1218.3,904.9 1219.9,904.3 1221.5,903.6 1223.1,902.9 1224.7,902.2 1226.3,901.6 1227.9,900.9 1229.5,900.2 1231.1,899.5 1232.7,898.8 1234.3,898.1 1235.9,897.4 1237.5,896.6 1239.1,895.9 1240.7,895.2 1242.3,894.4 1243.9,893.7 1245.5,893.0 1247.1,892.2 1248.7,891.5 1250.3,890.7 1251.9,890.0 1253.5,889.2 1255.1,888.4 1256.7,887.7 1258.3,886.9 1259.9,886.1 1261.5,885.4 1263.1,884.6 1264.7,883.8 1266.3,883.0 1267.9,882.2 1269.5,881.5 1271.1,880.7 1272.7,879.9 1274.3,879.1 1275.9,878.3 1277.5,877.5 1279.1,876.7 1280.7,875.9 1282.3,875.1 1283.9,874.3 1285.5,873.5 1287.1,872.7 1288.7,871.9 1290.3,871.1 1291.9,870.3 1293.5,869.5 1295.1,868.7 1296.7,867.9 1298.3,867.0 1299.9,866.2 1301.5,865.4 1303.1,864.6 1304.7,863.8 1306.3,863.0 1307.9,862.2 1309.5,861.4 1311.1,860.6 1312.7,859.8 1314.3,859.0 1315.1,858.6 1315.3,858.5 1315.5,858.5 1315.7,858.5 1315.9,858.5 1316.1,858.5 1316.3,858.5 1316.5,858.5 1316.7,858.5 1316.9,858.5 1317.1,858.5 1317.3,858.5 1317.5,858.5 1317.7,858.5 1317.9,858.5 1318.1,858.5 1318.3,858.5 1318.5,858.5 1318.7,858.5 1318.9,858.5 1319.1,858.5 1319.3,858.5 1319.5,858.5 1319.7,858.5 1319.7,859.6 1320.7,859.6 1320.7,862.8 1319.7,862.8 1319.7,863.9 1319.5,864.0 1319.3,864.1 1319.1,864.2 1318.9,864.3 1318.7,864.4 1318.5,864.5 1318.3,864.6 1318.1,864.7 1317.9,864.8 1317.7,864.9 1317.5,865.0 1317.3,865.1 1317.1,865.2 1316.9,865.3 1316.7,865.4 1316.5,865.5 1316.3,865.6 1316.1,865.7 1315.9,865.8 1315.7,865.9 1315.5,866.0 1315.3,866.1 1315.1,866.2 1314.3,866.6 1312.7,867.4 1311.1,868.2 1309.5,869.0 1307.9,869.8 1306.3,870.6 1304.7,871.4 1303.1,872.2 1301.5,873.0 1299.9,873.9 1298.3,874.7 1296.7,875.5 1295.1,876.3 1293.5,877.1 1291.9,877.9 1290.3,878.7 1288.7,879.5 1287.1,880.3 1285.5,881.1 1283.9,881.9 1282.3,882.7 1280.7,883.5 1279.1,884.3 1277.5,885.1 1275.9,885.9 1274.3,886.7 1272.7,887.4 1271.1,888.2 1269.5,889.0 1267.9,889.8 1266.3,890.6 1264.7,891.4 1263.1,892.1 1261.5,892.9 1259.9,893.7 1258.3,894.4 1256.7,895.2 1255.1,895.9 1253.5,896.7 1251.9,897.4 1250.3,898.2 1248.7,898.9 1247.1,899.7 1245.5,900.4 1243.9,901.1 1242.3,901.9 1240.7,902.6 1239.1,903.3 1237.5,904.0 1235.9,904.7 1234.3,905.4 1232.7,906.1 1231.1,906.8 1229.5,907.5 1227.9,908.2 1226.3,908.8 1224.7,909.5 1223.1,910.2 1221.5,910.8 1219.9,911.5 1218.3,912.1 1216.7,912.7 1215.1,913.4 1213.5,914.0 1211.9,914.6 1210.3,915.2 1208.7,915.8 1207.1,916.4 1205.5,917.0 1203.9,917.6 1202.3,918.2 1200.7,918.7 1199.1,919.3 1197.5,919.8 1195.9,920.4 1194.3,920.9 1192.7,921.5 1191.1,922.0 1189.5,922.5 1187.9,923.0 1186.3,923.5 1184.7,924.0 1183.1,924.5 1181.5,925.0 1179.9,925.5 1178.3,926.0 1176.7,926.4 1175.1,926.9 1173.5,927.4 1171.9,927.8 1170.3,928.2 1168.7,928.7 1167.1,929.1 1165.5,929.5 1163.9,930.0 1162.3,930.4 1160.7,930.8 1159.1,931.2 1157.5,931.6 1155.9,931.9 1154.3,932.3 1152.7,932.7 1151.1,933.1 1149.5,933.4 1147.9,933.8 1146.3,934.2 1144.7,934.5 1143.1,934.8 1141.5,935.2 1139.9,935.5 1138.3,935.8 1136.7,936.2 1135.1,936.5 1133.5,936.8 1131.9,937.1 1130.3,937.4 1128.7,937.7 1127.1,938.0 1125.5,938.3 1123.9,938.5 1122.3,938.8 1120.7,939.1 1119.1,939.3 1117.5,939.6 1115.9,939.9 1114.3,940.1 1112.7,940.3 1111.1,940.6 1109.5,940.8 1107.9,941.0 1106.3,941.3 1104.7,941.5 1103.1,941.7 1101.5,941.9 1099.9,942.1 1098.3,942.3 1096.7,942.5 1095.1,942.7 1093.5,942.9 1091.9,943.1 1090.3,943.3 1088.7,943.5 1087.1,943.6 1085.5,943.8 1083.9,944.0 1082.3,944.1 1080.7,944.3 1079.1,944.4 1077.5,944.6 1075.9,944.7 1074.3,944.9 1072.7,945.0 1071.1,945.2 1069.5,945.3 1067.9,945.4 1066.3,945.5 1064.7,945.7 1063.1,945.8 1061.5,945.9 1059.9,946.0 1058.3,946.1 1056.7,946.2 1055.1,946.3 1053.5,946.4 1051.9,946.5 1050.3,946.6 1048.7,946.7 1047.1,946.8 1045.5,946.9 1043.9,947.0 1042.3,947.1 1040.7,947.2 1039.1,947.2 1037.5,947.3 1035.9,947.4 1034.3,947.5 1032.7,947.5 1031.1,947.6 1029.5,947.7 1027.9,947.8 1026.3,947.8 1024.7,947.9 1023.1,947.9 1021.5,948.0 1019.9,948.1 1018.3,948.1 1016.7,948.2 1015.1,948.2 1013.5,948.3 1011.9,948.3 1010.3,948.4 1008.7,948.4 1007.1,948.5 1005.5,948.5 1003.9,948.6 1002.3,948.6 1000.7,948.7 999.1,948.7 997.5,948.8 995.9,948.8 994.3,948.9 992.7,948.9 991.1,949.0 989.5,949.0 987.9,949.0 986.3,949.1 984.7,949.1 983.1,949.2 981.5,949.2 979.9,949.3 978.3,949.3 976.7,949.3 975.1,949.4 973.5,949.4 971.9,949.5 970.3,949.5 968.7,949.6 967.1,949.6 965.5,949.6 963.9,949.7 962.3,949.7 960.7,949.8 959.1,949.8 957.5,949.9 955.9,949.9 954.3,949.9 952.7,950.0 951.1,950.0 949.5,950.1 947.9,950.1 946.3,950.1 944.7,950.2 943.1,950.2 941.5,950.2 939.9,950.3 938.3,950.3 936.7,950.4 935.1,950.4 933.5,950.4 931.9,950.5 930.3,950.5 928.7,950.5 927.1,950.6 925.5,950.6 923.9,950.6 922.3,950.7 920.7,950.7 919.1,950.7 917.5,950.8 915.9,950.8 914.3,950.8 912.7,950.9 911.1,950.9 909.5,950.9 907.9,950.9 906.3,951.0 904.7,951.0 903.1,951.0 901.5,951.0 899.9,951.1 898.3,951.1 896.7,951.1 895.1,951.1 893.5,951.2 891.9,951.2 890.3,951.2 888.7,951.2 887.1,951.2 885.5,951.3 883.9,951.3 882.3,951.3 880.7,951.3 879.1,951.3 877.5,951.3 875.9,951.3 874.3,951.4 872.7,951.4 871.1,951.4 869.5,951.4 867.9,951.4 866.3,951.4 864.7,951.4 863.1,951.4 861.5,951.4 859.9,951.4 858.3,951.4 856.7,951.4 855.1,951.4 853.5,951.4 851.9,951.4 850.3,951.4 848.7,951.4 847.1,951.4 845.5,951.4 843.9,951.4 842.3,951.4 840.7,951.4 839.1,951.4 837.5,951.4 835.9,951.4 834.3,951.4 832.7,951.4 831.1,951.4 829.5,951.4 827.9,951.4 826.3,951.4 824.7,951.4 823.1,951.3 821.5,951.3 819.9,951.3 818.3,951.3 816.7,951.3 815.1,951.3 813.5,951.3 811.9,951.2 810.3,951.2 808.7,951.2 807.1,951.2 805.5,951.2 803.9,951.2 802.3,951.1 800.7,951.1 799.1,951.1 797.5,951.1 795.9,951.1 794.3,951.0 792.7,951.0 791.1,951.0 789.5,951.0 787.9,950.9 786.3,950.9 784.7,950.9 783.1,950.9 781.5,950.8 779.9,950.8 778.3,950.8 776.7,950.7 775.1,950.7 773.5,950.7 771.9,950.7 770.3,950.6 768.7,950.6 767.1,950.6 765.5,950.5 763.9,950.5 762.3,950.5 760.7,950.4 759.1,950.4 757.5,950.4 755.9,950.3 754.3,950.3 752.7,950.3 751.1,950.2 749.5,950.2 747.9,950.2 746.3,950.1 744.7,950.1 743.1,950.0 741.5,950.0 739.9,950.0 738.3,949.9 736.7,949.9 735.1,949.8 733.5,949.8 731.9,949.7 730.3,949.7 728.7,949.6 727.1,949.6 725.5,949.5 723.9,949.5 722.3,949.4 720.7,949.4 719.1,949.3 717.5,949.2 715.9,949.2 714.3,949.1 712.7,949.1 711.1,949.0 709.5,948.9 707.9,948.8 706.3,948.8 704.7,948.7 703.1,948.6 701.5,948.5 699.9,948.5 698.3,948.4 696.7,948.3 695.1,948.2 693.5,948.1 691.9,948.0 690.3,947.9 688.7,947.8 687.1,947.7 685.5,947.6 683.9,947.5 682.3,947.4 680.7,947.3 679.1,947.2 677.5,947.0 675.9,946.9 674.3,946.8 672.7,946.7 671.1,946.5 669.5,946.4 667.9,946.3 666.3,946.1 664.7,946.0 663.1,945.8 661.5,945.7 659.9,945.5 658.3,945.4 656.7,945.2 655.1,945.0 653.5,944.9 651.9,944.7 650.3,944.5 648.7,944.3 647.1,944.2 645.5,944.0 643.9,943.8 642.3,943.6 640.7,943.4 639.1,943.2 637.5,943.0 635.9,942.8 634.3,942.5 632.7,942.3 631.1,942.1 629.5,941.9 627.9,941.6 626.3,941.4 624.7,941.2 623.1,940.9 621.5,940.7 619.9,940.4 618.3,940.2 616.7,939.9 615.1,939.7 613.5,939.4 611.9,939.1 610.3,938.9 608.7,938.6 607.1,938.3 605.5,938.0 603.9,937.8 602.3,937.5 600.7,937.2 599.1,936.9 597.5,936.6 595.9,936.3 594.3,936.0 592.7,935.7 591.1,935.4 589.5,935.1 587.9,934.7 586.3,934.4 584.7,934.1 583.1,933.8 581.5,933.4 579.9,933.1 578.3,932.8 576.7,932.4 575.1,932.1 573.5,931.8 571.9,931.4 570.3,931.1 568.7,930.7 567.1,930.3 565.5,930.0 563.9,929.6 562.3,929.3 560.7,928.9 559.1,928.5 557.5,928.2 555.9,927.8 554.3,927.4 552.7,927.0 551.1,926.6 549.5,926.2 547.9,925.9 546.3,925.5 544.7,925.1 543.1,924.7 541.5,924.3 539.9,923.9 538.3,923.5 536.7,923.1 535.1,922.6 533.5,922.2 531.9,921.8 530.3,921.4 528.7,921.0 527.1,920.6 525.5,920.1 523.9,919.7 522.3,919.3 520.7,918.9 519.1,918.4 517.5,918.0 515.9,917.6 514.3,917.1 512.7,916.7 511.1,916.3 509.5,915.8 507.9,915.4 506.3,914.9 504.7,914.5 503.1,914.0 501.5,913.6 499.9,913.2 498.3,912.7 496.7,912.3 495.1,911.8 493.5,911.4 491.9,910.9 490.3,910.5 488.7,910.0 487.1,909.6 485.5,909.1 483.9,908.7 482.3,908.2 480.7,907.8 479.1,907.3 477.5,906.9 475.9,906.4 474.3,906.0 472.7,905.6 471.1,905.1 469.5,904.7 467.9,904.2 466.3,903.8 464.7,903.3 463.1,902.9 461.5,902.5 459.9,902.0 458.3,901.6 456.7,901.2 455.1,900.7 453.5,900.3 451.9,899.9 450.3,899.4 448.7,899.0 447.1,898.6 445.5,898.2 443.9,897.8 442.3,897.3 440.7,896.9 439.1,896.5 437.5,896.1 435.9,895.7 434.3,895.3 432.7,894.9 431.1,894.5 429.5,894.1 427.9,893.7 426.3,893.3 424.7,892.9 423.1,892.5 421.5,892.2 419.9,891.8 418.3,891.4 416.7,891.0 415.1,890.7 413.5,890.3 411.9,889.9 410.3,889.6 408.7,889.2 407.1,888.9 405.5,888.5 403.9,888.2 402.3,887.8 400.7,887.5 399.1,887.2 397.5,886.8 395.9,886.5 394.3,886.2 392.7,885.8 391.1,885.5 389.5,885.2 387.9,884.9 386.3,884.6 384.7,884.2 383.1,883.9 381.5,883.6 379.9,883.3 378.3,883.0 376.7,882.7 375.1,882.4 373.5,882.1 371.9,881.8 370.3,881.6 368.7,881.3 367.1,881.0 365.5,880.7 363.9,880.4 362.3,880.2 360.7,879.9 359.1,879.6 357.5,879.3 355.9,879.1 354.3,878.8 352.7,878.6 351.1,878.3 349.5,878.0 347.9,877.8 346.3,877.5 344.7,877.3 343.1,877.1 341.5,876.8 339.9,876.6 338.3,876.3 336.7,876.1 335.1,875.9 333.5,875.6 331.9,875.4 330.3,875.2 328.7,875.0 327.1,874.7 325.5,874.5 323.9,874.3 322.3,874.1 320.7,873.9 319.1,873.7 318.9,873.6 318.7,873.6 318.5,873.6 318.3,873.6 318.1,873.5 317.9,873.5 317.7,873.5 317.5,873.5 317.3,873.4 317.1,873.4 316.9,873.4 316.7,873.4 316.5,873.3 316.3,873.3 316.1,873.3 315.9,873.3 315.7,873.2 315.5,873.2 315.3,873.2 315.1,873.2 314.9,873.1 314.7,873.1 314.5,873.1 314.3,873.1 314.3,872.0 313.3,872.0Z" fill="#ff00ff" shape-rendering="crispEdges"/>
<path d="M313.3,897.5 314.3,897.5 314.3,896.4 314.5,896.4 314.7,896.4 314.9,896.4 315.1,896.4 315.3,896.4 315.5,896.4 315.7,896.4 315.9,896.4 316.1,896.4 316.3,896.4 316.5,896.4 316.7,896.4 316.9,896.4 317.1,896.4 317.3,896.4 317.5,896.4 317.7,896.4 317.9,896.4 318.1,896.4 318.3,896.4 318.5,896.4 318.7,896.4 318.9,896.4 319.1,896.5 320.7,896.7 322.3,897.0 323.9,897.3 325.5,897.5 327.1,897.8 328.7,898.1 330.3,898.4 331.9,898.6 333.5,898.9 335.1,899.2 336.7,899.5 338.3,899.8 339.9,900.1 341.5,900.4 343.1,900.7 344.7,901.0 346.3,901.3 347.9,901.6 349.5,901.9 351.1,902.2 352.7,902.5 354.3,902.8 355.9,903.1 357.5,903.4 359.1,903.7 360.7,904.0 362.3,904.3 363.9,904.7 365.5,905.0 367.1,905.3 368.7,905.6 370.3,905.9 371.9,906.2 373.5,906.6 375.1,906.9 376.7,907.2 378.3,907.5 379.9,907.8 381.5,908.2 383.1,908.5 384.7,908.8 386.3,909.1 387.9,909.5 389.5,909.8 391.1,910.1 392.7,910.4 394.3,910.7 395.9,911.1 397.5,911.4 399.1,911.7 400.7,912.0 402.3,912.3 403.9,912.7 405.5,913.0 407.1,913.3 408.7,913.6 410.3,913.9 411.9,914.2 413.5,914.5 415.1,914.9 416.7,915.2 418.3,915.5 419.9,915.8 421.5,916.1 423.1,916.4 424.7,916.7 426.3,917.0 427.9,917.3 429.5,917.6 431.1,917.9 432.7,918.2 434.3,918.5 435.9,918.8 437.5,919.1 439.1,919.4 440.7,919.7 442.3,920.0 443.9,920.3 445.5,920.6 447.1,920.9 448.7,921.2 450.3,921.5 451.9,921.8 453.5,922.0 455.1,922.3 456.7,922.6 458.3,922.9 459.9,923.2 461.5,923.5 463.1,923.8 464.7,924.0 466.3,924.3 467.9,924.6 469.5,924.9 471.1,925.2 472.7,925.5 474.3,925.7 475.9,926.0 477.5,926.3 479.1,926.6 480.7,926.9 482.3,927.1 483.9,927.4 485.5,927.7 487.1,928.0 488.7,928.2 490.3,928.5 491.9,928.8 493.5,929.1 495.1,929.3 496.7,929.6 498.3,929.9 499.9,930.2 501.5,930.4 503.1,930.7 504.7,931.0 506.3,931.3 507.9,931.5 509.5,931.8 511.1,932.1 512.7,932.3 514.3,932.6 515.9,932.9 517.5,933.1 519.1,933.4 520.7,933.7 522.3,933.9 523.9,934.2 525.5,934.5 527.1,934.7 528.7,935.0 530.3,935.2 531.9,935.5 533.5,935.8 535.1,936.0 536.7,936.3 538.3,936.5 539.9,936.8 541.5,937.0 543.1,937.3 544.7,937.5 546.3,937.8 547.9,938.0 549.5,938.3 551.1,938.5 552.7,938.7 554.3,939.0 555.9,939.2 557.5,939.5 559.1,939.7 560.7,939.9 562.3,940.2 563.9,940.4 565.5,940.6 567.1,940.8 568.7,941.1 570.3,941.3 571.9,941.5 573.5,941.7 575.1,941.9 576.7,942.2 578.3,942.4 579.9,942.6 581.5,942.8 583.1,943.0 584.7,943.2 586.3,943.4 587.9,943.6 589.5,943.8 591.1,944.0 592.7,944.2 594.3,944.4 595.9,944.5 597.5,944.7 599.1,944.9 600.7,945.1 602.3,945.3 603.9,945.4 605.5,945.6 607.1,945.8 608.7,946.0 610.3,946.1 611.9,946.3 613.5,946.4 615.1,946.6 616.7,946.8 618.3,946.9 619.9,947.1 621.5,947.2 623.1,947.4 624.7,947.5 626.3,947.7 627.9,947.8 629.5,947.9 631.1,948.1 632.7,948.2 634.3,948.4 635.9,948.5 637.5,948.6 639.1,948.8 640.7,948.9 642.3,949.0 643.9,949.1 645.5,949.3 647.1,949.4 648.7,949.5 650.3,949.6 651.9,949.7 653.5,949.9 655.1,950.0 656.7,950.1 658.3,950.2 659.9,950.3 661.5,950.4 663.1,950.5 664.7,950.6 666.3,950.7 667.9,950.8 669.5,950.9 671.1,951.1 672.7,951.2 674.3,951.3 675.9,951.4 677.5,951.4 679.1,951.5 680.7,951.6 682.3,951.7 683.9,951.8 685.5,951.9 687.1,952.0 688.7,952.1 690.3,952.2 691.9,952.3 693.5,952.4 695.1,952.5 696.7,952.5 698.3,952.6 699.9,952.7 701.5,952.8 703.1,952.9 704.7,953.0 706.3,953.0 707.9,953.1 709.5,953.2 711.1,953.3 712.7,953.4 714.3,953.4 715.9,953.5 717.5,953.6 719.1,953.7 720.7,953.7 722.3,953.8 723.9,953.9 725.5,953.9 727.1,954.0 728.7,954.1 730.3,954.1 731.9,954.2 733.5,954.3 735.1,954.3 736.7,954.4 738.3,954.4 739.9,954.5 741.5,954.6 743.1,954.6 744.7,954.7 746.3,954.7 747.9,954.8 749.5,954.8 751.1,954.9 752.7,954.9 754.3,955.0 755.9,955.0 757.5,955.1 759.1,955.1 760.7,955.2 762.3,955.2 763.9,955.3 765.5,955.3 767.1,955.4 768.7,955.4 770.3,955.4 771.9,955.5 773.5,955.5 775.1,955.5 776.7,955.6 778.3,955.6 779.9,955.6 781.5,955.7 783.1,955.7 784.7,955.7 786.3,955.8 787.9,955.8 789.5,955.8 791.1,955.8 792.7,955.9 794.3,955.9 795.9,955.9 797.5,955.9 799.1,956.0 800.7,956.0 802.3,956.0 803.9,956.0 805.5,956.0 807.1,956.0 808.7,956.1 810.3,956.1 811.9,956.1 813.5,956.1 815.1,956.1 816.7,956.1 818.3,956.1 819.9,956.1 821.5,956.1 823.1,956.1 824.7,956.1 826.3,956.1 827.9,956.1 829.5,956.1 831.1,956.1 832.7,956.1 834.3,956.1 835.9,956.1 837.5,956.1 839.1,956.1 840.7,956.1 842.3,956.1 843.9,956.1 845.5,956.1 847.1,956.1 848.7,956.1 850.3,956.1 851.9,956.0 853.5,956.0 855.1,956.0 856.7,956.0 858.3,956.0 859.9,956.0 861.5,955.9 863.1,955.9 864.7,955.9 866.3,955.9 867.9,955.9 869.5,955.8 871.1,955.8 872.7,955.8 874.3,955.8 875.9,955.7 877.5,955.7 879.1,955.7 880.7,955.6 882.3,955.6 883.9,955.6 885.5,955.5 887.1,955.5 888.7,955.5 890.3,955.4 891.9,955.4 893.5,955.3 895.1,955.3 896.7,955.2 898.3,955.2 899.9,955.1 901.5,955.1 903.1,955.0 904.7,954.9 906.3,954.9 907.9,954.8 909.5,954.7 911.1,954.7 912.7,954.6 914.3,954.5 915.9,954.4 917.5,954.3 919.1,954.3 920.7,954.2 922.3,954.1 923.9,954.0 925.5,953.9 927.1,953.8 928.7,953.7 930.3,953.6 931.9,953.5 933.5,953.3 935.1,953.2 936.7,953.1 938.3,953.0 939.9,952.8 941.5,952.7 943.1,952.6 944.7,952.4 946.3,952.3 947.9,952.1 949.5,952.0 951.1,951.8 952.7,951.7 954.3,951.5 955.9,951.3 957.5,951.2 959.1,951.0 960.7,950.8 962.3,950.6 963.9,950.4 965.5,950.3 967.1,950.1 968.7,949.9 970.3,949.7 971.9,949.4 973.5,949.2 975.1,949.0 976.7,948.8 978.3,948.6 979.9,948.4 981.5,948.1 983.1,947.9 984.7,947.7 986.3,947.4 987.9,947.2 989.5,946.9 991.1,946.7 992.7,946.4 994.3,946.2 995.9,945.9 997.5,945.7 999.1,945.4 1000.7,945.1 1002.3,944.9 1003.9,944.6 1005.5,944.3 1007.1,944.0 1008.7,943.7 1010.3,943.5 1011.9,943.2 1013.5,942.9 1015.1,942.6 1016.7,942.3 1018.3,942.0 1019.9,941.7 1021.5,941.4 1023.1,941.1 1024.7,940.8 1026.3,940.5 1027.9,940.1 1029.5,939.8 1031.1,939.5 1032.7,939.2 1034.3,938.9 1035.9,938.5 1037.5,938.2 1039.1,937.9 1040.7,937.5 1042.3,937.2 1043.9,936.9 1045.5,936.5 1047.1,936.2 1048.7,935.8 1050.3,935.5 1051.9,935.1 1053.5,934.8 1055.1,934.4 1056.7,934.1 1058.3,933.7 1059.9,933.4 1061.5,933.0 1063.1,932.7 1064.7,932.3 1066.3,932.0 1067.9,931.6 1069.5,931.2 1071.1,930.9 1072.7,930.5 1074.3,930.2 1075.9,929.8 1077.5,929.4 1079.1,929.1 1080.7,928.7 1082.3,928.4 1083.9,928.0 1085.5,927.6 1087.1,927.3 1088.7,926.9 1090.3,926.6 1091.9,926.2 1093.5,925.9 1095.1,925.5 1096.7,925.1 1098.3,924.8 1099.9,924.4 1101.5,924.1 1103.1,923.7 1104.7,923.4 1106.3,923.0 1107.9,922.7 1109.5,922.4 1111.1,922.0 1112.7,921.7 1114.3,921.3 1115.9,921.0 1117.5,920.7 1119.1,920.3 1120.7,920.0 1122.3,919.7 1123.9,919.4 1125.5,919.0 1127.1,918.7 1128.7,918.4 1130.3,918.1 1131.9,917.8 1133.5,917.5 1135.1,917.2 1136.7,916.9 1138.3,916.6 1139.9,916.3 1141.5,916.0 1143.1,915.7 1144.7,915.4 1146.3,915.1 1147.9,914.8 1149.5,914.6 1151.1,914.3 1152.7,914.0 1154.3,913.8 1155.9,913.5 1157.5,913.2 1159.1,913.0 1160.7,912.7 1162.3,912.5 1163.9,912.2 1165.5,912.0 1167.1,911.8 1168.7,911.5 1170.3,911.3 1171.9,911.0 1173.5,910.8 1175.1,910.6 1176.7,910.4 1178.3,910.2 1179.9,909.9 1181.5,909.7 1183.1,909.5 1184.7,909.3 1186.3,909.1 1187.9,908.9 1189.5,908.7 1191.1,908.5 1192.7,908.3 1194.3,908.1 1195.9,907.9 1197.5,907.8 1199.1,907.6 1200.7,907.4 1202.3,907.2 1203.9,907.1 1205.5,906.9 1207.1,906.7 1208.7,906.6 1210.3,906.4 1211.9,906.2 1213.5,906.1 1215.1,905.9 1216.7,905.8 1218.3,905.6 1219.9,905.5 1221.5,905.4 1223.1,905.2 1224.7,905.1 1226.3,905.0 1227.9,904.8 1229.5,904.7 1231.1,904.6 1232.7,904.5 1234.3,904.3 1235.9,904.2 1237.5,904.1 1239.1,904.0 1240.7,903.9 1242.3,903.8 1243.9,903.7 1245.5,903.6 1247.1,903.5 1248.7,903.4 1250.3,903.3 1251.9,903.2 1253.5,903.1 1255.1,903.0 1256.7,903.0 1258.3,902.9 1259.9,902.8 1261.5,902.7 1263.1,902.6 1264.7,902.6 1266.3,902.5 1267.9,902.4 1269.5,902.4 1271.1,902.3 1272.7,902.2 1274.3,902.2 1275.9,902.1 1277.5,902.1 1279.1,902.0 1280.7,902.0 1282.3,901.9 1283.9,901.9 1285.5,901.8 1287.1,901.8 1288.7,901.7 1290.3,901.7 1291.9,901.6 1293.5,901.6 1295.1,901.6 1296.7,901.5 1298.3,901.5 1299.9,901.5 1301.5,901.4 1303.1,901.4 1304.7,901.4 1306.3,901.4 1307.9,901.3 1309.5,901.3 1311.1,901.3 1312.7,901.3 1314.3,901.2 1315.1,901.2 1315.3,901.2 1315.5,901.2 1315.7,901.2 1315.9,901.2 1316.1,901.2 1316.3,901.2 1316.5,901.2 1316.7,901.2 1316.9,901.2 1317.1,901.2 1317.3,901.2 1317.5,901.2 1317.7,901.2 1317.9,901.2 1318.1,901.2 1318.3,901.2 1318.5,901.2 1318.7,901.2 1318.9,901.2 1319.1,901.2 1319.3,901.2 1319.5,901.2 1319.7,901.2 1319.7,902.3 1320.7,902.3 1320.7,905.5 1319.7,905.5 1319.7,906.6 1319.5,906.6 1319.3,906.6 1319.1,906.6 1318.9,906.6 1318.7,906.6 1318.5,906.6 1318.3,906.6 1318.1,906.6 1317.9,906.6 1317.7,906.7 1317.5,906.7 1317.3,906.7 1317.1,906.7 1316.9,906.7 1316.7,906.7 1316.5,906.7 1316.3,906.7 1316.1,906.7 1315.9,906.7 1315.7,906.7 1315.5,906.7 1315.3,906.7 1315.1,906.7 1314.3,906.7 1312.7,906.7 1311.1,906.7 1309.5,906.8 1307.9,906.8 1306.3,906.8 1304.7,906.9 1303.1,906.9 1301.5,906.9 1299.9,907.0 1298.3,907.0 1296.7,907.0 1295.1,907.1 1293.5,907.1 1291.9,907.2 1290.3,907.2 1288.7,907.3 1287.1,907.3 1285.5,907.3 1283.9,907.4 1282.3,907.5 1280.7,907.5 1279.1,907.6 1277.5,907.6 1275.9,907.7 1274.3,907.8 1272.7,907.8 1271.1,907.9 1269.5,908.0 1267.9,908.0 1266.3,908.1 1264.7,908.2 1263.1,908.3 1261.5,908.3 1259.9,908.4 1258.3,908.5 1256.7,908.6 1255.1,908.7 1253.5,908.8 1251.9,908.9 1250.3,909.0 1248.7,909.1 1247.1,909.2 1245.5,909.3 1243.9,909.4 1242.3,909.5 1240.7,909.6 1239.1,909.7 1237.5,909.8 1235.9,909.9 1234.3,910.1 1232.7,910.2 1231.1,910.3 1229.5,910.4 1227.9,910.6 1226.3,910.7 1224.7,910.9 1223.1,911.0 1221.5,911.1 1219.9,911.3 1218.3,911.4 1216.7,911.6 1215.1,911.8 1213.5,911.9 1211.9,912.1 1210.3,912.2 1208.7,912.4 1207.1,912.6 1205.5,912.8 1203.9,912.9 1202.3,913.1 1200.7,913.3 1199.1,913.5 1197.5,913.7 1195.9,913.9 1194.3,914.1 1192.7,914.3 1191.1,914.5 1189.5,914.7 1187.9,914.9 1186.3,915.1 1184.7,915.3 1183.1,915.5 1181.5,915.7 1179.9,915.9 1178.3,916.2 1176.7,916.4 1175.1,916.6 1173.5,916.9 1171.9,917.1 1170.3,917.3 1168.7,917.6 1167.1,917.8 1165.5,918.1 1163.9,918.3 1162.3,918.6 1160.7,918.8 1159.1,919.1 1157.5,919.4 1155.9,919.6 1154.3,919.9 1152.7,920.2 1151.1,920.5 1149.5,920.7 1147.9,921.0 1146.3,921.3 1144.7,921.6 1143.1,921.9 1141.5,922.2 1139.9,922.5 1138.3,922.8 1136.7,923.1 1135.1,923.4 1133.5,923.7 1131.9,924.0 1130.3,924.3 1128.7,924.7 1127.1,925.0 1125.5,925.3 1123.9,925.6 1122.3,926.0 1120.7,926.3 1119.1,926.6 1117.5,927.0 1115.9,927.3 1114.3,927.7 1112.7,928.0 1111.1,928.4 1109.5,928.7 1107.9,929.1 1106.3,929.4 1104.7,929.8 1103.1,930.1 1101.5,930.5 1099.9,930.8 1098.3,931.2 1096.7,931.5 1095.1,931.9 1093.5,932.2 1091.9,932.6 1090.3,933.0 1088.7,933.3 1087.1,933.7 1085.5,934.0 1083.9,934.4 1082.3,934.8 1080.7,935.1 1079.1,935.5 1077.5,935.8 1075.9,936.2 1074.3,936.6 1072.7,936.9 1071.1,937.3 1069.5,937.6 1067.9,938.0 1066.3,938.3 1064.7,938.7 1063.1,939.1 1061.5,939.4 1059.9,939.8 1058.3,940.1 1056.7,940.5 1055.1,940.8 1053.5,941.2 1051.9,941.5 1050.3,941.8 1048.7,942.2 1047.1,942.5 1045.5,942.9 1043.9,943.2 1042.3,943.5 1040.7,943.8 1039.1,944.2 1037.5,944.5 1035.9,944.8 1034.3,945.1 1032.7,945.5 1031.1,945.8 1029.5,946.1 1027.9,946.4 1026.3,946.7 1024.7,947.0 1023.1,947.3 1021.5,947.6 1019.9,947.9 1018.3,948.2 1016.7,948.5 1015.1,948.8 1013.5,949.1 1011.9,949.4 1010.3,949.6 1008.7,949.9 1007.1,950.2 1005.5,950.5 1003.9,950.7 1002.3,951.0 1000.7,951.3 999.1,951.5 997.5,951.8 995.9,952.0 994.3,952.3 992.7,952.5 991.1,952.8 989.5,953.0 987.9,953.2 986.3,953.5 984.7,953.7 983.1,953.9 981.5,954.1 979.9,954.4 978.3,954.6 976.7,954.8 975.1,955.0 973.5,955.2 971.9,955.4 970.3,955.6 968.7,955.8 967.1,956.0 965.5,956.2 963.9,956.4 962.3,956.5 960.7,956.7 959.1,956.9 957.5,957.0 955.9,957.2 954.3,957.4 952.7,957.5 951.1,957.7 949.5,957.8 947.9,957.9 946.3,958.1 944.7,958.2 943.1,958.3 941.5,958.5 939.9,958.6 938.3,958.7 936.7,958.8 935.1,958.9 933.5,959.0 931.9,959.2 930.3,959.3 928.7,959.4 927.1,959.5 925.5,959.5 923.9,959.6 922.3,959.7 920.7,959.8 919.1,959.9 917.5,960.0 915.9,960.0 914.3,960.1 912.7,960.2 911.1,960.2 909.5,960.3 907.9,960.4 906.3,960.4 904.7,960.5 903.1,960.6 901.5,960.6 899.9,960.7 898.3,960.7 896.7,960.8 895.1,960.8 893.5,960.8 891.9,960.9 890.3,960.9 888.7,961.0 887.1,961.0 885.5,961.0 883.9,961.1 882.3,961.1 880.7,961.1 879.1,961.2 877.5,961.2 875.9,961.2 874.3,961.2 872.7,961.3 871.1,961.3 869.5,961.3 867.9,961.3 866.3,961.3 864.7,961.4 863.1,961.4 861.5,961.4 859.9,961.4 858.3,961.4 856.7,961.4 855.1,961.4 853.5,961.5 851.9,961.5 850.3,961.5 848.7,961.5 847.1,961.5 845.5,961.5 843.9,961.5 842.3,961.5 840.7,961.5 839.1,961.5 837.5,961.5 835.9,961.5 834.3,961.5 832.7,961.5 831.1,961.5 829.5,961.5 827.9,961.5 826.3,961.5 824.7,961.5 823.1,961.5 821.5,961.5 819.9,961.5 818.3,961.5 816.7,961.5 815.1,961.5 813.5,961.5 811.9,961.5 810.3,961.5 808.7,961.5 807.1,961.5 805.5,961.5 803.9,961.5 802.3,961.4 800.7,961.4 799.1,961.4 797.5,961.4 795.9,961.4 794.3,961.4 792.7,961.3 791.1,961.3 789.5,961.3 787.9,961.3 786.3,961.2 784.7,961.2 783.1,961.2 781.5,961.2 779.9,961.1 778.3,961.1 776.7,961.1 775.1,961.0 773.5,961.0 771.9,961.0 770.3,960.9 768.7,960.9 767.1,960.9 765.5,960.8 763.9,960.8 762.3,960.7 760.7,960.7 759.1,960.7 757.5,960.6 755.9,960.6 754.3,960.5 752.7,960.5 751.1,960.4 749.5,960.4 747.9,960.3 746.3,960.3 744.7,960.2 743.1,960.2 741.5,960.1 739.9,960.1 738.3,960.0 736.7,960.0 735.1,959.9 733.5,959.8 731.9,959.8 730.3,959.7 728.7,959.6 727.1,959.6 725.5,959.5 723.9,959.5 722.3,959.4 720.7,959.3 719.1,959.2 717.5,959.2 715.9,959.1 714.3,959.0 712.7,959.0 711.1,958.9 709.5,958.8 707.9,958.7 706.3,958.7 704.7,958.6 703.1,958.5 701.5,958.4 699.9,958.3 698.3,958.3 696.7,958.2 695.1,958.1 693.5,958.0 691.9,957.9 690.3,957.8 688.7,957.8 687.1,957.7 685.5,957.6 683.9,957.5 682.3,957.4 680.7,957.3 679.1,957.2 677.5,957.1 675.9,957.0 674.3,956.9 672.7,956.8 671.1,956.7 669.5,956.6 667.9,956.5 666.3,956.4 664.7,956.3 663.1,956.2 661.5,956.1 659.9,956.0 658.3,955.9 656.7,955.8 655.1,955.7 653.5,955.6 651.9,955.5 650.3,955.3 648.7,955.2 647.1,955.1 645.5,955.0 643.9,954.9 642.3,954.8 640.7,954.6 639.1,954.5 637.5,954.4 635.9,954.2 634.3,954.1 632.7,954.0 631.1,953.9 629.5,953.7 627.9,953.6 626.3,953.4 624.7,953.3 623.1,953.2 621.5,953.0 619.9,952.9 618.3,952.7 616.7,952.6 615.1,952.4 613.5,952.3 611.9,952.1 610.3,952.0 608.7,951.8 607.1,951.6 605.5,951.5 603.9,951.3 602.3,951.1 600.7,951.0 599.1,950.8 597.5,950.6 595.9,950.4 594.3,950.3 592.7,950.1 591.1,949.9 589.5,949.7 587.9,949.5 586.3,949.3 584.7,949.1 583.1,948.9 581.5,948.7 579.9,948.5 578.3,948.3 576.7,948.1 575.1,947.9 573.5,947.7 571.9,947.5 570.3,947.3 568.7,947.1 567.1,946.9 565.5,946.6 563.9,946.4 562.3,946.2 560.7,946.0 559.1,945.7 557.5,945.5 555.9,945.3 554.3,945.0 552.7,944.8 551.1,944.6 549.5,944.3 547.9,944.1 546.3,943.8 544.7,943.6 543.1,943.4 541.5,943.1 539.9,942.9 538.3,942.6 536.7,942.4 535.1,942.1 533.5,941.9 531.9,941.6 530.3,941.3 528.7,941.1 527.1,940.8 525.5,940.6 523.9,940.3 522.3,940.1 520.7,939.8 519.1,939.5 517.5,939.3 515.9,939.0 514.3,938.7 512.7,938.5 511.1,938.2 509.5,937.9 507.9,937.7 506.3,937.4 504.7,937.1 503.1,936.9 501.5,936.6 499.9,936.3 498.3,936.0 496.7,935.8 495.1,935.5 493.5,935.2 491.9,934.9 490.3,934.7 488.7,934.4 487.1,934.1 485.5,933.9 483.9,933.6 482.3,933.3 480.7,933.0 479.1,932.7 477.5,932.5 475.9,932.2 474.3,931.9 472.7,931.6 471.1,931.4 469.5,931.1 467.9,930.8 466.3,930.5 464.7,930.2 463.1,929.9 461.5,929.7 459.9,929.4 458.3,929.1 456.7,928.8 455.1,928.5 453.5,928.2 451.9,927.9 450.3,927.7 448.7,927.4 447.1,927.1 445.5,926.8 443.9,926.5 442.3,926.2 440.7,925.9 439.1,925.6 437.5,925.3 435.9,925.0 434.3,924.7 432.7,924.4 431.1,924.1 429.5,923.8 427.9,923.5 426.3,923.2 424.7,922.9 423.1,922.6 421.5,922.3 419.9,922.0 418.3,921.7 416.7,921.4 415.1,921.1 413.5,920.8 411.9,920.5 410.3,920.2 408.7,919.9 407.1,919.6 405.5,919.2 403.9,918.9 402.3,918.6 400.7,918.3 399.1,918.0 397.5,917.7 395.9,917.3 394.3,917.0 392.7,916.7 391.1,916.4 389.5,916.1 387.9,915.7 386.3,915.4 384.7,915.1 383.1,914.8 381.5,914.5 379.9,914.1 378.3,913.8 376.7,913.5 375.1,913.2 373.5,912.8 371.9,912.5 370.3,912.2 368.7,911.9 367.1,911.6 365.5,911.2 363.9,910.9 362.3,910.6 360.7,910.3 359.1,910.0 357.5,909.7 355.9,909.3 354.3,909.0 352.7,908.7 351.1,908.4 349.5,908.1 347.9,907.8 346.3,907.5 344.7,907.2 343.1,906.9 341.5,906.6 339.9,906.3 338.3,906.0 336.7,905.7 335.1,905.4 333.5,905.1 331.9,904.8 330.3,904.5 328.7,904.3 327.1,904.0 325.5,903.7 323.9,903.4 322.3,903.1 320.7,902.9 319.1,902.6 318.9,902.6 318.7,902.5 318.5,902.5 318.3,902.5 318.1,902.4 317.9,902.4 317.7,902.4 317.5,902.3 317.3,902.3 317.1,902.3 316.9,902.2 316.7,902.2 316.5,902.2 316.3,902.1 316.1,902.1 315.9,902.1 315.7,902.0 315.5,902.0 315.3,902.0 315.1,901.9 314.9,901.9 314.7,901.9 314.5,901.8 314.3,901.8 314.3,900.7 313.3,900.7Z" fill="#ff8000" shape-rendering="crispEdges"/>
<path d="M313.3,968.9 314.3,968.9 314.3,967.8 314.5,967.8 314.7,967.8 314.9,967.8 315.1,967.8 315.3,967.8 315.5,967.8 315.7,967.8 315.9,967.8 316.1,967.8 316.3,967.8 316.5,967.8 316.7,967.8 316.9,967.8 317.1,967.8 317.3,967.8 317.5,967.8 317.7,967.8 317.9,967.8 318.1,967.8 318.3,967.8 318.5,967.8 318.7,967.8 318.9,967.8 319.1,967.7 320.7,967.7 322.3,967.7 323.9,967.7 325.5,967.7 327.1,967.6 328.7,967.6 330.3,967.6 331.9,967.6 333.5,967.6 335.1,967.6 336.7,967.5 338.3,967.5 339.9,967.5 341.5,967.5 343.1,967.5 344.7,967.5 346.3,967.4 347.9,967.4 349.5,967.4 351.1,967.4 352.7,967.4 354.3,967.4 355.9,967.4 357.5,967.4 359.1,967.4 360.7,967.4 362.3,967.3 363.9,967.3 365.5,967.3 367.1,967.3 368.7,967.3 370.3,967.3 371.9,967.3 373.5,967.3 375.1,967.3 376.7,967.3 378.3,967.3 379.9,967.3 381.5,967.3 383.1,967.3 384.7,967.3 386.3,967.3 387.9,967.3 389.5,967.3 391.1,967.3 392.7,967.3 394.3,967.3 395.9,967.3 397.5,967.3 399.1,967.3 400.7,967.3 402.3,967.3 403.9,967.3 405.5,967.3 407.1,967.3 408.7,967.3 410.3,967.3 411.9,967.3 413.5,967.4 415.1,967.4 416.7,967.4 418.3,967.4 419.9,967.4 421.5,967.4 423.1,967.4 424.7,967.4 426.3,967.4 427.9,967.4 429.5,967.5 431.1,967.5 432.7,967.5 434.3,967.5 435.9,967.5 437.5,967.5 439.1,967.5 440.7,967.6 442.3,967.6 443.9,967.6 445.5,967.6 447.1,967.6 448.7,967.6 450.3,967.7 451.9,967.7 453.5,967.7 455.1,967.7 456.7,967.7 458.3,967.8 459.9,967.8 461.5,967.8 463.1,967.8 464.7,967.8 466.3,967.9 467.9,967.9 469.5,967.9 471.1,967.9 472.7,968.0 474.3,968.0 475.9,968.0 477.5,968.0 479.1,968.1 480.7,968.1 482.3,968.1 483.9,968.1 485.5,968.2 487.1,968.2 488.7,968.2 490.3,968.2 491.9,968.3 493.5,968.3 495.1,968.3 496.7,968.3 498.3,968.4 499.9,968.4 501.5,968.4 503.1,968.5 504.7,968.5 506.3,968.5 507.9,968.5 509.5,968.6 511.1,968.6 512.7,968.6 514.3,968.7 515.9,968.7 517.5,968.7 519.1,968.7 520.7,968.8 522.3,968.8 523.9,968.8 525.5,968.9 527.1,968.9 528.7,968.9 530.3,968.9 531.9,969.0 533.5,969.0 535.1,969.0 536.7,969.1 538.3,969.1 539.9,969.1 541.5,969.2 543.1,969.2 544.7,969.2 546.3,969.2 547.9,969.3 549.5,969.3 551.1,969.3 552.7,969.4 554.3,969.4 555.9,969.4 557.5,969.4 559.1,969.5 560.7,969.5 562.3,969.5 563.9,969.6 565.5,969.6 567.1,969.6 568.7,969.6 570.3,969.7 571.9,969.7 573.5,969.7 575.1,969.8 576.7,969.8 578.3,969.8 579.9,969.8 581.5,969.9 583.1,969.9 584.7,969.9 586.3,969.9 587.9,970.0 589.5,970.0 591.1,970.0 592.7,970.0 594.3,970.1 595.9,970.1 597.5,970.1 599.1,970.1 600.7,970.2 602.3,970.2 603.9,970.2 605.5,970.2 607.1,970.3 608.7,970.3 610.3,970.3 611.9,970.3 613.5,970.3 615.1,970.4 616.7,970.4 618.3,970.4 619.9,970.4 621.5,970.4 623.1,970.5 624.7,970.5 626.3,970.5 627.9,970.5 629.5,970.5 631.1,970.6 632.7,970.6 634.3,970.6 635.9,970.6 637.5,970.6 639.1,970.6 640.7,970.6 642.3,970.7 643.9,970.7 645.5,970.7 647.1,970.7 648.7,970.7 650.3,970.7 651.9,970.7 653.5,970.7 655.1,970.8 656.7,970.8 658.3,970.8 659.9,970.8 661.5,970.8 663.1,970.8 664.7,970.8 666.3,970.8 667.9,970.8 669.5,970.8 671.1,970.8 672.7,970.8 674.3,970.8 675.9,970.9 677.5,970.9 679.1,970.9 680.7,970.9 682.3,970.9 683.9,970.9 685.5,970.9 687.1,970.9 688.7,970.9 690.3,970.9 691.9,970.9 693.5,970.9 695.1,970.9 696.7,970.9 698.3,970.9 699.9,970.9 701.5,970.9 703.1,970.9 704.7,970.9 706.3,970.9 707.9,970.9 709.5,970.9 711.1,970.9 712.7,970.9 714.3,970.9 715.9,970.9 717.5,970.9 719.1,970.9 720.7,970.9 722.3,970.9 723.9,970.9 725.5,970.9 727.1,970.9 728.7,970.9 730.3,970.9 731.9,970.8 733.5,970.8 735.1,970.8 736.7,970.8 738.3,970.8 739.9,970.8 741.5,970.8 743.1,970.8 744.7,970.8 746.3,970.8 747.9,970.8 749.5,970.8 751.1,970.8 752.7,970.8 754.3,970.8 755.9,970.8 757.5,970.8 759.1,970.8 760.7,970.8 762.3,970.8 763.9,970.8 765.5,970.8 767.1,970.8 768.7,970.8 770.3,970.8 771.9,970.8 773.5,970.8 775.1,970.8 776.7,970.8 778.3,970.8 779.9,970.8 781.5,970.8 783.1,970.8 784.7,970.8 786.3,970.8 787.9,970.8 789.5,970.8 791.1,970.8 792.7,970.8 794.3,970.8 795.9,970.8 797.5,970.8 799.1,970.8 800.7,970.8 802.3,970.8 803.9,970.8 805.5,970.8 807.1,970.8 808.7,970.8 810.3,970.8 811.9,970.8 813.5,970.8 815.1,970.8 816.7,970.9 818.3,970.9 819.9,970.8 821.5,970.8 823.1,970.8 824.7,970.8 826.3,970.8 827.9,970.8 829.5,970.8 831.1,970.8 832.7,970.8 834.3,970.8 835.9,970.8 837.5,970.8 839.1,970.8 840.7,970.8 842.3,970.8 843.9,970.8 845.5,970.8 847.1,970.8 848.7,970.8 850.3,970.8 851.9,970.8 853.5,970.8 855.1,970.8 856.7,970.8 858.3,970.8 859.9,970.8 861.5,970.7 863.1,970.7 864.7,970.7 866.3,970.7 867.9,970.7 869.5,970.7 871.1,970.7 872.7,970.7 874.3,970.7 875.9,970.6 877.5,970.6 879.1,970.6 880.7,970.6 882.3,970.6 883.9,970.6 885.5,970.6 887.1,970.5 888.7,970.5 890.3,970.5 891.9,970.5 893.5,970.5 895.1,970.5 896.7,970.4 898.3,970.4 899.9,970.4 901.5,970.4 903.1,970.3 904.7,970.3 906.3,970.3 907.9,970.3 909.5,970.3 911.1,970.2 912.7,970.2 914.3,970.2 915.9,970.2 917.5,970.1 919.1,970.1 920.7,970.1 922.3,970.0 923.9,970.0 925.5,970.0 927.1,969.9 928.7,969.9 930.3,969.9 931.9,969.8 933.5,969.8 935.1,969.8 936.7,969.7 938.3,969.7 939.9,969.7 941.5,969.6 943.1,969.6 944.7,969.6 946.3,969.5 947.9,969.5 949.5,969.4 951.1,969.4 952.7,969.3 954.3,969.3 955.9,969.3 957.5,969.2 959.1,969.2 960.7,969.1 962.3,969.1 963.9,969.0 965.5,969.0 967.1,968.9 968.7,968.9 970.3,968.8 971.9,968.8 973.5,968.7 975.1,968.7 976.7,968.6 978.3,968.6 979.9,968.5 981.5,968.5 983.1,968.4 984.7,968.3 986.3,968.3 987.9,968.2 989.5,968.2 991.1,968.1 992.7,968.0 994.3,968.0 995.9,967.9 997.5,967.8 999.1,967.8 1000.7,967.7 1002.3,967.7 1003.9,967.6 1005.5,967.5 1007.1,967.4 1008.7,967.4 1010.3,967.3 1011.9,967.2 1013.5,967.2 1015.1,967.1 1016.7,967.0 1018.3,966.9 1019.9,966.9 1021.5,966.8 1023.1,966.7 1024.7,966.6 1026.3,966.5 1027.9,966.5 1029.5,966.4 1031.1,966.3 1032.7,966.2 1034.3,966.1 1035.9,966.0 1037.5,966.0 1039.1,965.9 1040.7,965.8 1042.3,965.7 1043.9,965.6 1045.5,965.5 1047.1,965.4 1048.7,965.3 1050.3,965.2 1051.9,965.1 1053.5,965.1 1055.1,965.0 1056.7,964.9 1058.3,964.8 1059.9,964.7 1061.5,964.6 1063.1,964.5 1064.7,964.4 1066.3,964.3 1067.9,964.2 1069.5,964.0 1071.1,963.9 1072.7,963.8 1074.3,963.7 1075.9,963.6 1077.5,963.5 1079.1,963.4 1080.7,963.3 1082.3,963.2 1083.9,963.1 1085.5,963.0 1087.1,962.8 1088.7,962.7 1090.3,962.6 1091.9,962.5 1093.5,962.4 1095.1,962.3 1096.7,962.1 1098.3,962.0 1099.9,961.9 1101.5,961.8 1103.1,961.6 1104.7,961.5 1106.3,961.4 1107.9,961.3 1109.5,961.1 1111.1,961.0 1112.7,960.9 1114.3,960.8 1115.9,960.6 1117.5,960.5 1119.1,960.4 1120.7,960.2 1122.3,960.1 1123.9,960.0 1125.5,959.8 1127.1,959.7 1128.7,959.6 1130.3,959.4 1131.9,959.3 1133.5,959.1 1135.1,959.0 1136.7,958.9 1138.3,958.7 1139.9,958.6 1141.5,958.5 1143.1,958.3 1144.7,958.2 1146.3,958.0 1147.9,957.9 1149.5,957.8 1151.1,957.6 1152.7,957.5 1154.3,957.3 1155.9,957.2 1157.5,957.1 1159.1,956.9 1160.7,956.8 1162.3,956.6 1163.9,956.5 1165.5,956.4 1167.1,956.2 1168.7,956.1 1170.3,955.9 1171.9,955.8 1173.5,955.6 1175.1,955.5 1176.7,955.4 1178.3,955.2 1179.9,955.1 1181.5,954.9 1183.1,954.8 1184.7,954.7 1186.3,954.5 1187.9,954.4 1189.5,954.2 1191.1,954.1 1192.7,954.0 1194.3,953.8 1195.9,953.7 1197.5,953.5 1199.1,953.4 1200.7,953.3 1202.3,953.1 1203.9,953.0 1205.5,952.9 1207.1,952.7 1208.7,952.6 1210.3,952.5 1211.9,952.3 1213.5,952.2 1215.1,952.1 1216.7,951.9 1218.3,951.8 1219.9,951.7 1221.5,951.5 1223.1,951.4 1224.7,951.3 1226.3,951.1 1227.9,951.0 1229.5,950.9 1231.1,950.7 1232.7,950.6 1234.3,950.5 1235.9,950.3 1237.5,950.2 1239.1,950.1 1240.7,949.9 1242.3,949.8 1243.9,949.7 1245.5,949.5 1247.1,949.4 1248.7,949.3 1250.3,949.1 1251.9,949.0 1253.5,948.8 1255.1,948.7 1256.7,948.6 1258.3,948.4 1259.9,948.3 1261.5,948.2 1263.1,948.0 1264.7,947.9 1266.3,947.7 1267.9,947.6 1269.5,947.5 1271.1,947.3 1272.7,947.2 1274.3,947.0 1275.9,946.9 1277.5,946.7 1279.1,946.6 1280.7,946.4 1282.3,946.3 1283.9,946.1 1285.5,946.0 1287.1,945.8 1288.7,945.7 1290.3,945.5 1291.9,945.4 1293.5,945.2 1295.1,945.1 1296.7,944.9 1298.3,944.8 1299.9,944.6 1301.5,944.4 1303.1,944.3 1304.7,944.1 1306.3,943.9 1307.9,943.8 1309.5,943.6 1311.1,943.4 1312.7,943.3 1314.3,943.1 1315.1,943.0 1315.3,943.0 1315.5,943.0 1315.7,943.0 1315.9,943.0 1316.1,943.0 1316.3,943.0 1316.5,943.0 1316.7,943.0 1316.9,943.0 1317.1,943.0 1317.3,943.0 1317.5,943.0 1317.7,943.0 1317.9,943.0 1318.1,943.0 1318.3,943.0 1318.5,943.0 1318.7,943.0 1318.9,943.0 1319.1,943.0 1319.3,943.0 1319.5,943.0 1319.7,943.0 1319.7,944.1 1320.7,944.1 1320.7,947.3 1319.7,947.3 1319.7,948.4 1319.5,948.4 1319.3,948.4 1319.1,948.4 1318.9,948.5 1318.7,948.5 1318.5,948.5 1318.3,948.5 1318.1,948.5 1317.9,948.6 1317.7,948.6 1317.5,948.6 1317.3,948.6 1317.1,948.7 1316.9,948.7 1316.7,948.7 1316.5,948.7 1316.3,948.7 1316.1,948.8 1315.9,948.8 1315.7,948.8 1315.5,948.8 1315.3,948.8 1315.1,948.9 1314.3,949.0 1312.7,949.1 1311.1,949.3 1309.5,949.5 1307.9,949.6 1306.3,949.8 1304.7,950.0 1303.1,950.1 1301.5,950.3 1299.9,950.4 1298.3,950.6 1296.7,950.7 1295.1,950.9 1293.5,951.1 1291.9,951.2 1290.3,951.4 1288.7,951.5 1287.1,951.7 1285.5,951.8 1283.9,952.0 1282.3,952.1 1280.7,952.2 1279.1,952.4 1277.5,952.5 1275.9,952.7 1274.3,952.8 1272.7,953.0 1271.1,953.1 1269.5,953.2 1267.9,953.4 1266.3,953.5 1264.7,953.7 1263.1,953.8 1261.5,953.9 1259.9,954.1 1258.3,954.2 1256.7,954.4 1255.1,954.5 1253.5,954.6 1251.9,954.8 1250.3,954.9 1248.7,955.0 1247.1,955.2 1245.5,955.3 1243.9,955.4 1242.3,955.6 1240.7,955.7 1239.1,955.8 1237.5,956.0 1235.9,956.1 1234.3,956.2 1232.7,956.4 1231.1,956.5 1229.5,956.6 1227.9,956.8 1226.3,956.9 1224.7,957.0 1223.1,957.2 1221.5,957.3 1219.9,957.4 1218.3,957.6 1216.7,957.7 1215.1,957.8 1213.5,958.0 1211.9,958.1 1210.3,958.2 1208.7,958.4 1207.1,958.5 1205.5,958.6 1203.9,958.8 1202.3,958.9 1200.7,959.1 1199.1,959.2 1197.5,959.3 1195.9,959.5 1194.3,959.6 1192.7,959.7 1191.1,959.9 1189.5,960.0 1187.9,960.2 1186.3,960.3 1184.7,960.4 1183.1,960.6 1181.5,960.7 1179.9,960.9 1178.3,961.0 1176.7,961.2 1175.1,961.3 1173.5,961.4 1171.9,961.6 1170.3,961.7 1168.7,961.9 1167.1,962.0 1165.5,962.1 1163.9,962.3 1162.3,962.4 1160.7,962.6 1159.1,962.7 1157.5,962.8 1155.9,963.0 1154.3,963.1 1152.7,963.3 1151.1,963.4 1149.5,963.5 1147.9,963.7 1146.3,963.8 1144.7,964.0 1143.1,964.1 1141.5,964.2 1139.9,964.4 1138.3,964.5 1136.7,964.7 1135.1,964.8 1133.5,964.9 1131.9,965.1 1130.3,965.2 1128.7,965.3 1127.1,965.5 1125.5,965.6 1123.9,965.7 1122.3,965.9 1120.7,966.0 1119.1,966.1 1117.5,966.2 1115.9,966.4 1114.3,966.5 1112.7,966.6 1111.1,966.8 1109.5,966.9 1107.9,967.0 1106.3,967.1 1104.7,967.3 1103.1,967.4 1101.5,967.5 1099.9,967.6 1098.3,967.7 1096.7,967.9 1095.1,968.0 1093.5,968.1 1091.9,968.2 1090.3,968.3 1088.7,968.4 1087.1,968.6 1085.5,968.7 1083.9,968.8 1082.3,968.9 1080.7,969.0 1079.1,969.1 1077.5,969.2 1075.9,969.3 1074.3,969.4 1072.7,969.5 1071.1,969.6 1069.5,969.7 1067.9,969.8 1066.3,969.9 1064.7,970.0 1063.1,970.1 1061.5,970.2 1059.9,970.3 1058.3,970.4 1056.7,970.5 1055.1,970.6 1053.5,970.7 1051.9,970.8 1050.3,970.9 1048.7,971.0 1047.1,971.1 1045.5,971.2 1043.9,971.3 1042.3,971.3 1040.7,971.4 1039.1,971.5 1037.5,971.6 1035.9,971.7 1034.3,971.8 1032.7,971.8 1031.1,971.9 1029.5,972.0 1027.9,972.1 1026.3,972.2 1024.7,972.2 1023.1,972.3 1021.5,972.4 1019.9,972.5 1018.3,972.5 1016.7,972.6 1015.1,972.7 1013.5,972.8 1011.9,972.8 1010.3,972.9 1008.7,973.0 1007.1,973.0 1005.5,973.1 1003.9,973.2 1002.3,973.2 1000.7,973.3 999.1,973.4 997.5,973.4 995.9,973.5 994.3,973.5 992.7,973.6 991.1,973.7 989.5,973.7 987.9,973.8 986.3,973.8 984.7,973.9 983.1,974.0 981.5,974.0 979.9,974.1 978.3,974.1 976.7,974.2 975.1,974.2 973.5,974.3 971.9,974.3 970.3,974.4 968.7,974.4 967.1,974.5 965.5,974.5 963.9,974.6 962.3,974.6 960.7,974.7 959.1,974.7 957.5,974.7 955.9,974.8 954.3,974.8 952.7,974.9 951.1,974.9 949.5,974.9 947.9,975.0 946.3,975.0 944.7,975.1 943.1,975.1 941.5,975.1 939.9,975.2 938.3,975.2 936.7,975.2 935.1,975.3 933.5,975.3 931.9,975.3 930.3,975.4 928.7,975.4 927.1,975.4 925.5,975.5 923.9,975.5 922.3,975.5 920.7,975.5 919.1,975.6 917.5,975.6 915.9,975.6 914.3,975.6 912.7,975.7 911.1,975.7 909.5,975.7 907.9,975.7 906.3,975.8 904.7,975.8 903.1,975.8 901.5,975.8 899.9,975.8 898.3,975.9 896.7,975.9 895.1,975.9 893.5,975.9 891.9,975.9 890.3,976.0 888.7,976.0 887.1,976.0 885.5,976.0 883.9,976.0 882.3,976.0 880.7,976.0 879.1,976.1 877.5,976.1 875.9,976.1 874.3,976.1 872.7,976.1 871.1,976.1 869.5,976.1 867.9,976.1 866.3,976.1 864.7,976.2 863.1,976.2 861.5,976.2 859.9,976.2 858.3,976.2 856.7,976.2 855.1,976.2 853.5,976.2 851.9,976.2 850.3,976.2 848.7,976.2 847.1,976.2 845.5,976.2 843.9,976.2 842.3,976.2 840.7,976.2 839.1,976.2 837.5,976.2 835.9,976.2 834.3,976.2 832.7,976.2 831.1,976.2 829.5,976.2 827.9,976.2 826.3,976.2 824.7,976.2 823.1,976.3 821.5,976.3 819.9,976.3 818.3,976.3 816.7,976.3 815.1,976.3 813.5,976.3 811.9,976.3 810.3,976.2 808.7,976.2 807.1,976.2 805.5,976.2 803.9,976.2 802.3,976.2 800.7,976.2 799.1,976.2 797.5,976.2 795.9,976.2 794.3,976.2 792.7,976.2 791.1,976.2 789.5,976.2 787.9,976.2 786.3,976.2 784.7,976.2 783.1,976.2 781.5,976.2 779.9,976.2 778.3,976.2 776.7,976.2 775.1,976.2 773.5,976.2 771.9,976.2 770.3,976.2 768.7,976.2 767.1,976.2 765.5,976.2 763.9,976.2 762.3,976.2 760.7,976.2 759.1,976.2 757.5,976.2 755.9,976.2 754.3,976.2 752.7,976.2 751.1,976.2 749.5,976.2 747.9,976.2 746.3,976.2 744.7,976.2 743.1,976.2 741.5,976.2 739.9,976.2 738.3,976.2 736.7,976.2 735.1,976.3 733.5,976.3 731.9,976.3 730.3,976.3 728.7,976.3 727.1,976.3 725.5,976.3 723.9,976.3 722.3,976.3 720.7,976.3 719.1,976.3 717.5,976.3 715.9,976.3 714.3,976.3 712.7,976.3 711.1,976.3 709.5,976.3 707.9,976.3 706.3,976.3 704.7,976.3 703.1,976.3 701.5,976.3 699.9,976.3 698.3,976.3 696.7,976.3 695.1,976.3 693.5,976.3 691.9,976.3 690.3,976.3 688.7,976.3 687.1,976.3 685.5,976.3 683.9,976.3 682.3,976.3 680.7,976.3 679.1,976.3 677.5,976.3 675.9,976.3 674.3,976.3 672.7,976.3 671.1,976.2 669.5,976.2 667.9,976.2 666.3,976.2 664.7,976.2 663.1,976.2 661.5,976.2 659.9,976.2 658.3,976.2 656.7,976.2 655.1,976.2 653.5,976.2 651.9,976.2 650.3,976.2 648.7,976.1 647.1,976.1 645.5,976.1 643.9,976.1 642.3,976.1 640.7,976.1 639.1,976.1 637.5,976.1 635.9,976.0 634.3,976.0 632.7,976.0 631.1,976.0 629.5,976.0 627.9,976.0 626.3,976.0 624.7,975.9 623.1,975.9 621.5,975.9 619.9,975.9 618.3,975.9 616.7,975.8 615.1,975.8 613.5,975.8 611.9,975.8 610.3,975.8 608.7,975.7 607.1,975.7 605.5,975.7 603.9,975.7 602.3,975.7 600.7,975.6 599.1,975.6 597.5,975.6 595.9,975.6 594.3,975.5 592.7,975.5 591.1,975.5 589.5,975.5 587.9,975.4 586.3,975.4 584.7,975.4 583.1,975.4 581.5,975.3 579.9,975.3 578.3,975.3 576.7,975.3 575.1,975.2 573.5,975.2 571.9,975.2 570.3,975.1 568.7,975.1 567.1,975.1 565.5,975.1 563.9,975.0 562.3,975.0 560.7,975.0 559.1,975.0 557.5,974.9 555.9,974.9 554.3,974.9 552.7,974.8 551.1,974.8 549.5,974.8 547.9,974.7 546.3,974.7 544.7,974.7 543.1,974.7 541.5,974.6 539.9,974.6 538.3,974.6 536.7,974.5 535.1,974.5 533.5,974.5 531.9,974.5 530.3,974.4 528.7,974.4 527.1,974.4 525.5,974.3 523.9,974.3 522.3,974.3 520.7,974.2 519.1,974.2 517.5,974.2 515.9,974.2 514.3,974.1 512.7,974.1 511.1,974.1 509.5,974.0 507.9,974.0 506.3,974.0 504.7,974.0 503.1,973.9 501.5,973.9 499.9,973.9 498.3,973.8 496.7,973.8 495.1,973.8 493.5,973.8 491.9,973.7 490.3,973.7 488.7,973.7 487.1,973.7 485.5,973.6 483.9,973.6 482.3,973.6 480.7,973.5 479.1,973.5 477.5,973.5 475.9,973.5 474.3,973.4 472.7,973.4 471.1,973.4 469.5,973.4 467.9,973.4 466.3,973.3 464.7,973.3 463.1,973.3 461.5,973.3 459.9,973.2 458.3,973.2 456.7,973.2 455.1,973.2 453.5,973.2 451.9,973.1 450.3,973.1 448.7,973.1 447.1,973.1 445.5,973.1 443.9,973.0 442.3,973.0 440.7,973.0 439.1,973.0 437.5,973.0 435.9,973.0 434.3,972.9 432.7,972.9 431.1,972.9 429.5,972.9 427.9,972.9 426.3,972.9 424.7,972.8 423.1,972.8 421.5,972.8 419.9,972.8 418.3,972.8 416.7,972.8 415.1,972.8 413.5,972.8 411.9,972.8 410.3,972.8 408.7,972.7 407.1,972.7 405.5,972.7 403.9,972.7 402.3,972.7 400.7,972.7 399.1,972.7 397.5,972.7 395.9,972.7 394.3,972.7 392.7,972.7 391.1,972.7 389.5,972.7 387.9,972.7 386.3,972.7 384.7,972.7 383.1,972.7 381.5,972.7 379.9,972.7 378.3,972.7 376.7,972.7 375.1,972.7 373.5,972.7 371.9,972.7 370.3,972.7 368.7,972.7 367.1,972.7 365.5,972.8 363.9,972.8 362.3,972.8 360.7,972.8 359.1,972.8 357.5,972.8 355.9,972.8 354.3,972.8 352.7,972.8 351.1,972.8 349.5,972.9 347.9,972.9 346.3,972.9 344.7,972.9 343.1,972.9 341.5,972.9 339.9,972.9 338.3,973.0 336.7,973.0 335.1,973.0 333.5,973.0 331.9,973.0 330.3,973.1 328.7,973.1 327.1,973.1 325.5,973.1 323.9,973.1 322.3,973.2 320.7,973.2 319.1,973.2 318.9,973.2 318.7,973.2 318.5,973.2 318.3,973.2 318.1,973.2 317.9,973.2 317.7,973.2 317.5,973.2 317.3,973.2 317.1,973.2 316.9,973.2 316.7,973.2 316.5,973.2 316.3,973.2 316.1,973.2 315.9,973.2 315.7,973.2 315.5,973.2 315.3,973.2 315.1,973.2 314.9,973.2 314.7,973.2 314.5,973.2 314.3,973.2 314.3,972.1 313.3,972.1Z" fill="#00ff00" shape-rendering="crispEdges"/>
<g shape-rendering="crispEdges" fill="#000">
<rect x="221" y="97" width="5" height="354" fill="#000"/>
<rect x="221" y="468" width="5" height="579" fill="#000"/>
<rect x="222" y="1047" width="3" height="1" fill="#000"/>
<rect x="1454" y="97" width="5" height="950" fill="#000"/>
<rect x="1455" y="1047" width="3" height="1" fill="#000"/>
<rect x="204" y="97" width="1255" height="5" fill="#000"/>
<rect x="203" y="98" width="1" height="3" fill="#000"/>
<rect x="221" y="1025" width="1238" height="4" fill="#000"/>
<rect x="204" y="178" width="17" height="4" fill="#000"/>
<rect x="203" y="179" width="1" height="2" fill="#000"/>
<rect x="204" y="258" width="17" height="4" fill="#000"/>
<rect x="203" y="259" width="1" height="2" fill="#000"/>
<rect x="204" y="338" width="17" height="5" fill="#000"/>
<rect x="203" y="339" width="1" height="3" fill="#000"/>
<rect x="204" y="419" width="17" height="4" fill="#000"/>
<rect x="203" y="420" width="1" height="2" fill="#000"/>
<rect x="204" y="500" width="17" height="5" fill="#000"/>
<rect x="203" y="501" width="1" height="3" fill="#000"/>
<rect x="204" y="568" width="17" height="5" fill="#000"/>
<rect x="203" y="569" width="1" height="3" fill="#000"/>
<rect x="204" y="636" width="17" height="5" fill="#000"/>
<rect x="203" y="637" width="1" height="3" fill="#000"/>
<rect x="204" y="704" width="17" height="4" fill="#000"/>
<rect x="203" y="705" width="1" height="2" fill="#000"/>
<rect x="204" y="771" width="17" height="5" fill="#000"/>
<rect x="203" y="772" width="1" height="3" fill="#000"/>
<rect x="204" y="839" width="17" height="4" fill="#000"/>
<rect x="203" y="840" width="1" height="2" fill="#000"/>
<rect x="204" y="907" width="17" height="4" fill="#000"/>
<rect x="203" y="908" width="1" height="2" fill="#000"/>
<rect x="204" y="974" width="17" height="5" fill="#000"/>
<rect x="203" y="975" width="1" height="3" fill="#000"/>
<rect x="213" y="138" width="8" height="4" fill="#000"/>
<rect x="212" y="139" width="1" height="2" fill="#000"/>
<rect x="213" y="218" width="8" height="4" fill="#000"/>
<rect x="212" y="219" width="1" height="2" fill="#000"/>
<rect x="213" y="298" width="8" height="5" fill="#000"/>
<rect x="212" y="299" width="1" height="3" fill="#000"/>
<rect x="213" y="379" width="8" height="4" fill="#000"/>
<rect x="212" y="380" width="1" height="2" fill="#000"/>
<rect x="213" y="534" width="8" height="5" fill="#000"/>
<rect x="212" y="535" width="1" height="3" fill="#000"/>
<rect x="213" y="602" width="8" height="5" fill="#000"/>
<rect x="212" y="603" width="1" height="3" fill="#000"/>
<rect x="213" y="670" width="8" height="5" fill="#000"/>
<rect x="212" y="671" width="1" height="3" fill="#000"/>
<rect x="213" y="738" width="8" height="4" fill="#000"/>
<rect x="212" y="739" width="1" height="2" fill="#000"/>
<rect x="213" y="805" width="8" height="5" fill="#000"/>
<rect x="212" y="806" width="1" height="3" fill="#000"/>
<rect x="213" y="873" width="8" height="4" fill="#000"/>
<rect x="212" y="874" width="1" height="2" fill="#000"/>
<rect x="213" y="941" width="8" height="4" fill="#000"/>
<rect x="212" y="942" width="1" height="2" fill="#000"/>
<rect x="213" y="1008" width="8" height="4" fill="#000"/>
<rect x="212" y="1009" width="1" height="2" fill="#000"/>
<rect x="375" y="1029" width="5" height="18" fill="#000"/>
<rect x="375.5" y="1047" width="4" height="1" fill="#000"/>
<rect x="530" y="1029" width="4" height="18" fill="#000"/>
<rect x="530.5" y="1047" width="3" height="1" fill="#000"/>
<rect x="684" y="1029" width="4" height="18" fill="#000"/>
<rect x="684.5" y="1047" width="3" height="1" fill="#000"/>
<rect x="838" y="1029" width="4" height="18" fill="#000"/>
<rect x="838.5" y="1047" width="3" height="1" fill="#000"/>
<rect x="992" y="1029" width="4" height="18" fill="#000"/>
<rect x="992.5" y="1047" width="3" height="1" fill="#000"/>
<rect x="1146" y="1029" width="5" height="18" fill="#000"/>
<rect x="1146.5" y="1047" width="4" height="1" fill="#000"/>
<rect x="1300" y="1029" width="5" height="18" fill="#000"/>
<rect x="1300.5" y="1047" width="4" height="1" fill="#000"/>
<rect x="299" y="1029" width="4" height="8" fill="#000"/>
<rect x="299.5" y="1037" width="3" height="1" fill="#000"/>
<rect x="453" y="1029" width="5" height="8" fill="#000"/>
<rect x="453.5" y="1037" width="4" height="1" fill="#000"/>
<rect x="607" y="1029" width="5" height="8" fill="#000"/>
<rect x="607.5" y="1037" width="4" height="1" fill="#000"/>
<rect x="761" y="1029" width="5" height="8" fill="#000"/>
<rect x="761.5" y="1037" width="4" height="1" fill="#000"/>
<rect x="915" y="1029" width="5" height="8" fill="#000"/>
<rect x="915.5" y="1037" width="4" height="1" fill="#000"/>
<rect x="1070" y="1029" width="4" height="8" fill="#000"/>
<rect x="1070.5" y="1037" width="3" height="1" fill="#000"/>
<rect x="1224" y="1029" width="4" height="8" fill="#000"/>
<rect x="1224.5" y="1037" width="3" height="1" fill="#000"/>
<rect x="1378" y="1029" width="4" height="8" fill="#000"/>
<rect x="1378.5" y="1037" width="3" height="1" fill="#000"/>
</g>
<g stroke="#000" stroke-width="4.4" stroke-linecap="round" fill="none">
<line x1="206" y1="460.8" x2="241.8" y2="445.4"/>
<line x1="205.5" y1="476.4" x2="241.8" y2="461.4"/>
</g>
<text transform="translate(194.30 109.80) scale(1 1.05)" font-size="36.7" text-anchor="end">8.0</text>
<text transform="translate(194.30 190.30) scale(1 1.05)" font-size="36.7" text-anchor="end">7.0</text>
<text transform="translate(194.30 270.60) scale(1 1.05)" font-size="36.7" text-anchor="end">6.0</text>
<text transform="translate(194.30 350.80) scale(1 1.05)" font-size="36.7" text-anchor="end">5.0</text>
<text transform="translate(194.30 431.50) scale(1 1.05)" font-size="36.7" text-anchor="end">4.0</text>
<text transform="translate(194.30 512.80) scale(1 1.05)" font-size="36.7" text-anchor="end">1.4</text>
<text transform="translate(194.30 580.80) scale(1 1.05)" font-size="36.7" text-anchor="end">1.2</text>
<text transform="translate(194.30 648.80) scale(1 1.05)" font-size="36.7" text-anchor="end">1.0</text>
<text transform="translate(194.30 716.30) scale(1 1.05)" font-size="36.7" text-anchor="end">0.8</text>
<text transform="translate(194.30 783.80) scale(1 1.05)" font-size="36.7" text-anchor="end">0.6</text>
<text transform="translate(194.30 851.30) scale(1 1.05)" font-size="36.7" text-anchor="end">0.4</text>
<text transform="translate(194.30 919.30) scale(1 1.05)" font-size="36.7" text-anchor="end">0.2</text>
<text transform="translate(194.30 986.80) scale(1 1.05)" font-size="36.7" text-anchor="end">0.0</text>
<text transform="translate(213.54 1087.70) scale(1 1.05)" font-size="36.7" text-anchor="start">0</text>
<text transform="translate(356.78 1087.70) scale(1 1.05)" font-size="36.7" text-anchor="start">10</text>
<text transform="translate(511.38 1087.70) scale(1 1.05)" font-size="36.7" text-anchor="start">20</text>
<text transform="translate(665.73 1087.70) scale(1 1.05)" font-size="36.7" text-anchor="start">30</text>
<text transform="translate(820.13 1087.70) scale(1 1.05)" font-size="36.7" text-anchor="start">40</text>
<text transform="translate(973.95 1087.70) scale(1 1.05)" font-size="36.7" text-anchor="start">50</text>
<text transform="translate(1127.87 1087.70) scale(1 1.05)" font-size="36.7" text-anchor="start">60</text>
<text transform="translate(1281.99 1087.70) scale(1 1.05)" font-size="36.7" text-anchor="start">70</text>
<text transform="translate(1436.26 1087.70) scale(1 1.05)" font-size="36.7" text-anchor="start">80</text>
<text transform="translate(756.80 1159.80) scale(1 1.03)" font-size="45.4" text-anchor="start">Time (h)</text>
<text transform="translate(71.1 702.4) rotate(-90) scale(1 1.030)" font-size="45.7" text-anchor="start">Concentration (g/m<tspan font-size="27.5" dy="-24.2">3</tspan><tspan dy="24.2">)</tspan></text>
<rect x="721.5" y="35.5" width="355" height="269" fill="#ffffff" stroke="#000" stroke-width="3" shape-rendering="crispEdges"/>
<rect x="741" y="78" width="87" height="5" fill="#ff0000" shape-rendering="crispEdges"/>
<text transform="translate(836.20 94.00) scale(1 1.03)" font-size="36.7" text-anchor="start">Benzene</text>
<rect x="741" y="124" width="87" height="5" fill="#0000ff" shape-rendering="crispEdges"/>
<text transform="translate(836.20 140.00) scale(1 1.03)" font-size="36.7" text-anchor="start">Toluene</text>
<rect x="741" y="170" width="87" height="5" rx="2.5" ry="2.5" fill="#ff00ff"/>
<text transform="translate(836.20 186.00) scale(0.989 1.03)" font-size="36.7" text-anchor="start">m,p-Xylene</text>
<rect x="741" y="216" width="87" height="6" rx="2.5" ry="2.5" fill="#ff8000"/>
<text transform="translate(836.20 232.00) scale(1 1.03)" font-size="36.7" text-anchor="start">o-Xylene</text>
<rect x="741" y="262" width="87" height="6" rx="2.5" ry="2.5" fill="#00ff00"/>
<text transform="translate(836.20 278.00) scale(0.991 1.03)" font-size="36.7" text-anchor="start">Ethylbenzene</text>
</svg>
</body></html>
